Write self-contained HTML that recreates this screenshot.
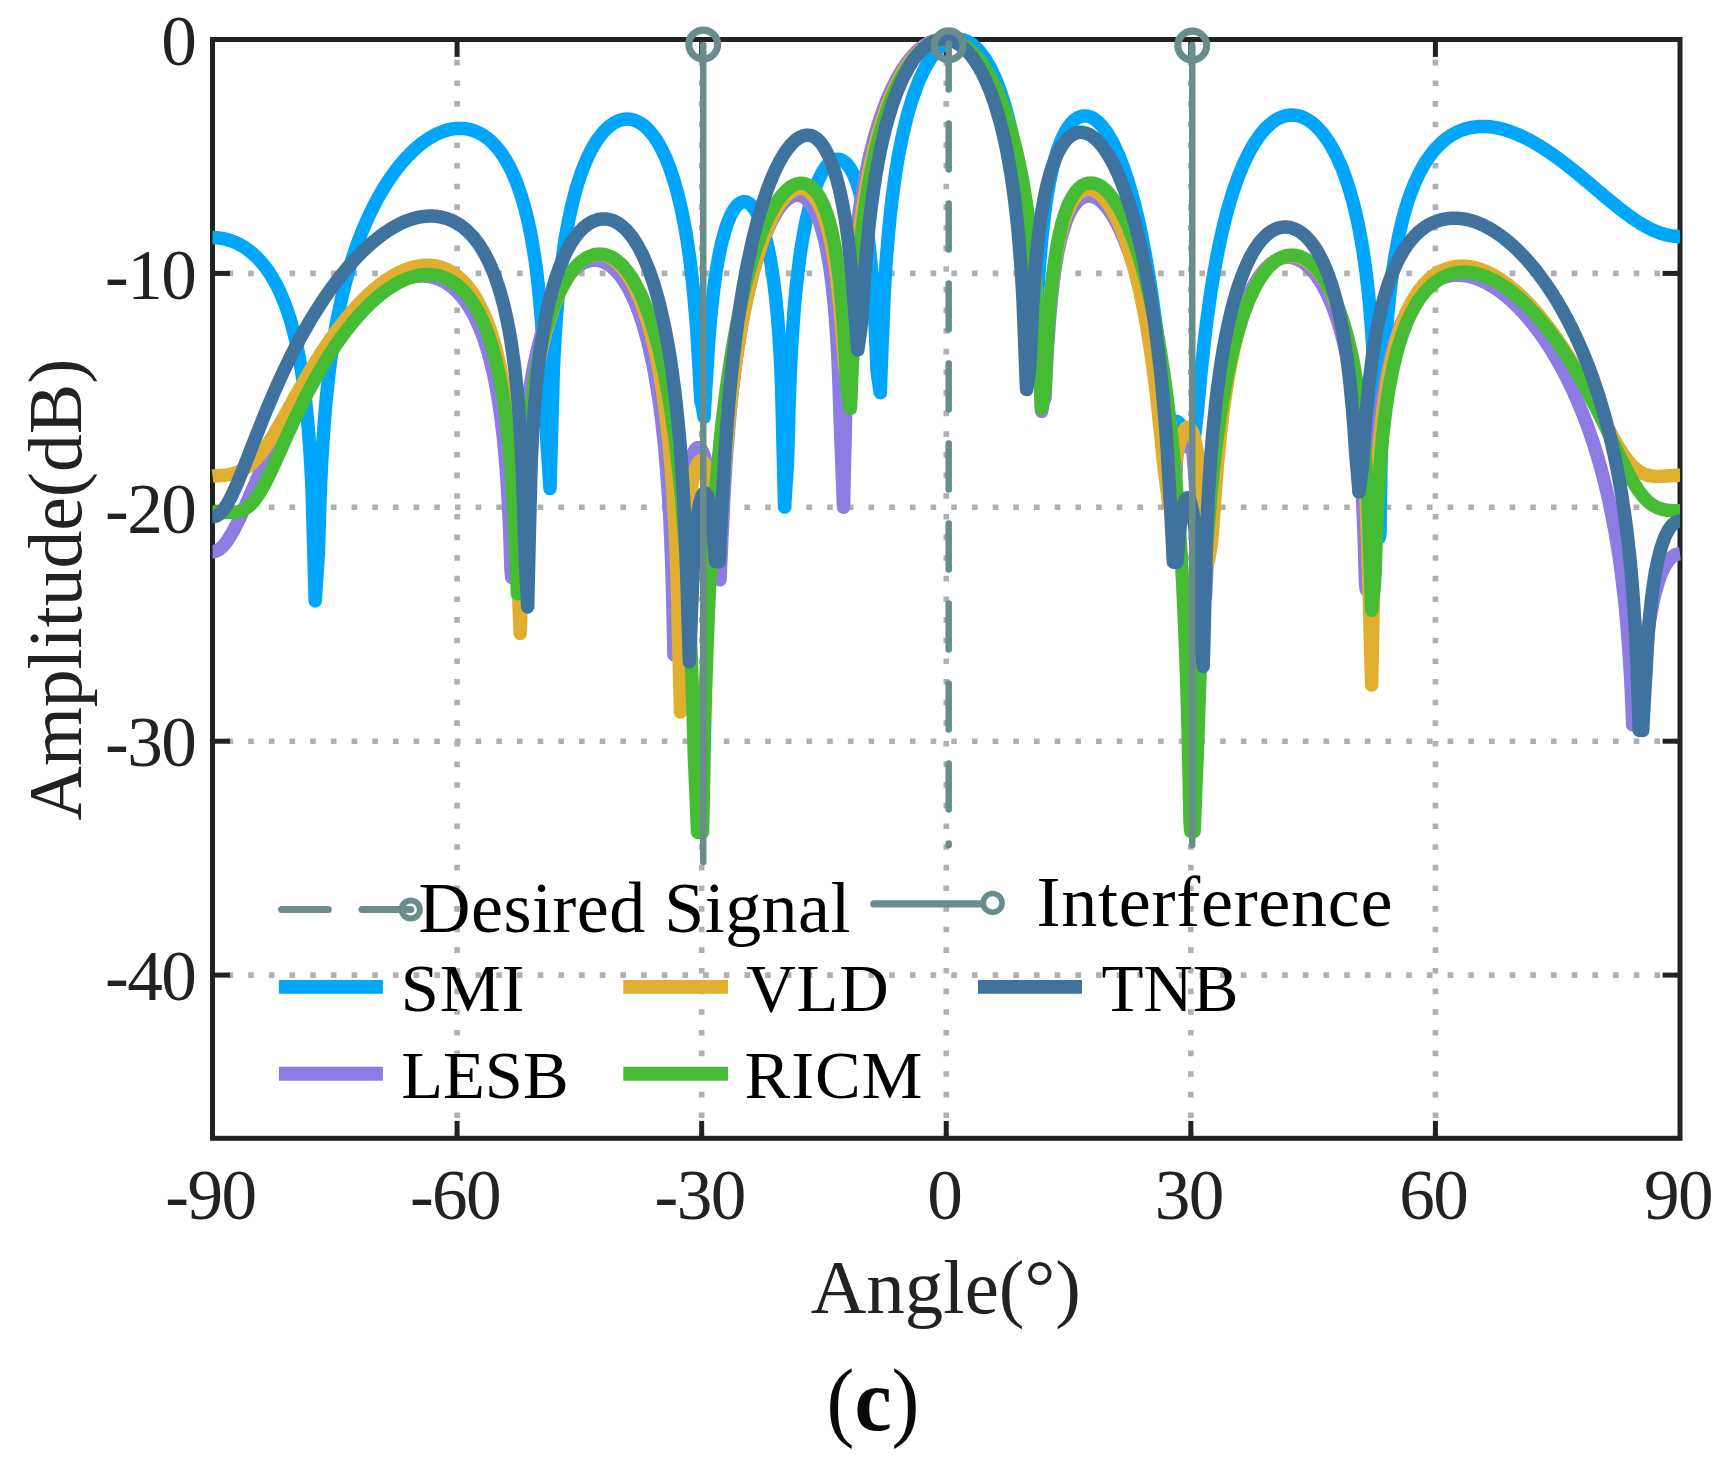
<!DOCTYPE html>
<html><head><meta charset="utf-8"><title>Beampattern (c)</title>
<style>html,body{margin:0;padding:0;background:#fff}svg{display:block}text{font-family:"Liberation Serif","Times New Roman",serif;fill:#222}</style></head><body>
<svg width="1735" height="1469" viewBox="0 0 1735 1469">
<rect width="1735" height="1469" fill="#fff"/>
<defs><clipPath id="cp"><rect x="209.10" y="30.50" width="1474.30" height="1110.80"/></clipPath></defs>
<g stroke="#b0b0b0" stroke-width="5.6" fill="none">
<line x1="457.08" y1="59.82" x2="457.08" y2="1135.30" stroke-dasharray="5.6 15.04"/>
<line x1="701.67" y1="59.82" x2="701.67" y2="1135.30" stroke-dasharray="5.6 15.04"/>
<line x1="946.25" y1="59.82" x2="946.25" y2="1135.30" stroke-dasharray="5.6 15.04"/>
<line x1="1190.83" y1="59.82" x2="1190.83" y2="1135.30" stroke-dasharray="5.6 15.04"/>
<line x1="1435.42" y1="59.82" x2="1435.42" y2="1135.30" stroke-dasharray="5.6 15.04"/>
<line x1="227.49" y1="273.40" x2="1677.00" y2="273.40" stroke-dasharray="5.6 15.08"/>
<line x1="227.49" y1="507.30" x2="1677.00" y2="507.30" stroke-dasharray="5.6 15.08"/>
<line x1="227.49" y1="741.20" x2="1677.00" y2="741.20" stroke-dasharray="5.6 15.08"/>
<line x1="227.49" y1="975.10" x2="1677.00" y2="975.10" stroke-dasharray="5.6 15.08"/>
</g>
<g stroke="#222222" stroke-width="5" fill="none">
<rect x="212.50" y="39.50" width="1467.50" height="1098.80"/>
<line x1="457.08" y1="39.50" x2="457.08" y2="56.90"/>
<line x1="457.08" y1="1138.30" x2="457.08" y2="1120.90"/>
<line x1="701.67" y1="39.50" x2="701.67" y2="56.90"/>
<line x1="701.67" y1="1138.30" x2="701.67" y2="1120.90"/>
<line x1="946.25" y1="39.50" x2="946.25" y2="56.90"/>
<line x1="946.25" y1="1138.30" x2="946.25" y2="1120.90"/>
<line x1="1190.83" y1="39.50" x2="1190.83" y2="56.90"/>
<line x1="1190.83" y1="1138.30" x2="1190.83" y2="1120.90"/>
<line x1="1435.42" y1="39.50" x2="1435.42" y2="56.90"/>
<line x1="1435.42" y1="1138.30" x2="1435.42" y2="1120.90"/>
<line x1="212.50" y1="273.40" x2="229.90" y2="273.40"/>
<line x1="1680.00" y1="273.40" x2="1662.60" y2="273.40"/>
<line x1="212.50" y1="507.30" x2="229.90" y2="507.30"/>
<line x1="1680.00" y1="507.30" x2="1662.60" y2="507.30"/>
<line x1="212.50" y1="741.20" x2="229.90" y2="741.20"/>
<line x1="1680.00" y1="741.20" x2="1662.60" y2="741.20"/>
<line x1="212.50" y1="975.10" x2="229.90" y2="975.10"/>
<line x1="1680.00" y1="975.10" x2="1662.60" y2="975.10"/>
</g>
<g clip-path="url(#cp)" fill="none" stroke-width="13.5" stroke-linejoin="round" stroke-linecap="butt">
<polyline stroke="#00a6fb" points="212.5,237.6 213.3,237.6 214.1,237.6 214.9,237.7 215.8,237.7 216.6,237.8 217.4,237.8 218.2,237.9 219.0,238.0 219.8,238.1 220.7,238.2 221.5,238.3 222.3,238.5 223.1,238.6 223.9,238.8 224.7,239.0 225.5,239.2 226.4,239.4 227.2,239.6 228.0,239.8 228.8,240.1 229.6,240.3 230.4,240.6 231.3,240.9 232.1,241.2 232.9,241.5 233.7,241.8 234.5,242.1 235.3,242.5 236.1,242.8 237.0,243.2 237.8,243.6 238.6,244.0 239.4,244.4 240.2,244.9 241.0,245.3 241.8,245.8 242.7,246.3 243.5,246.8 244.3,247.3 245.1,247.8 245.9,248.4 246.7,248.9 247.6,249.5 248.4,250.1 249.2,250.7 250.0,251.4 250.8,252.0 251.6,252.7 252.4,253.4 253.3,254.1 254.1,254.8 254.9,255.6 255.7,256.3 256.5,257.1 257.3,258.0 258.2,258.8 259.0,259.7 259.8,260.5 260.6,261.4 261.4,262.4 262.2,263.3 263.0,264.3 263.9,265.3 264.7,266.4 265.5,267.4 266.3,268.5 267.1,269.7 267.9,270.8 268.8,272.0 269.6,273.2 270.4,274.5 271.2,275.8 272.0,277.1 272.8,278.4 273.6,279.8 274.5,281.3 275.3,282.7 276.1,284.3 276.9,285.8 277.7,287.4 278.5,289.1 279.4,290.8 280.2,292.6 281.0,294.4 281.8,296.3 282.6,298.2 283.4,300.2 284.2,302.2 285.1,304.4 285.9,306.5 286.7,308.8 287.5,311.2 288.3,313.6 289.1,316.1 290.0,318.7 290.8,321.4 291.6,324.3 292.4,327.2 293.2,330.2 294.0,333.4 294.8,336.7 295.7,340.2 296.5,343.8 297.3,347.6 298.1,351.6 298.9,355.8 299.7,360.2 300.5,364.9 301.4,369.8 302.2,375.0 303.0,380.6 303.8,386.5 304.6,392.9 305.4,399.8 306.3,407.2 307.1,415.3 307.9,424.1 308.7,433.9 309.5,444.7 310.3,457.0 311.1,471.0 312.0,487.4 312.8,515.8 313.6,544.1 314.4,572.5 315.2,600.9 316.0,588.1 316.9,575.4 317.7,562.6 318.5,549.9 319.3,520.7 320.1,497.4 320.9,478.1 321.7,461.7 322.6,447.4 323.4,434.8 324.2,423.5 325.0,413.2 325.8,403.8 326.6,395.2 327.5,387.1 328.3,379.6 329.1,372.6 329.9,366.0 330.7,359.7 331.5,353.8 332.3,348.2 333.2,342.8 334.0,337.7 334.8,332.8 335.6,328.1 336.4,323.6 337.2,319.2 338.1,315.0 338.9,311.0 339.7,307.1 340.5,303.3 341.3,299.6 342.1,296.1 342.9,292.6 343.8,289.3 344.6,286.0 345.4,282.8 346.2,279.7 347.0,276.7 347.8,273.8 348.7,270.9 349.5,268.1 350.3,265.4 351.1,262.7 351.9,260.1 352.7,257.6 353.5,255.1 354.4,252.6 355.2,250.2 356.0,247.9 356.8,245.5 357.6,243.3 358.4,241.1 359.2,238.9 360.1,236.8 360.9,234.7 361.7,232.6 362.5,230.6 363.3,228.6 364.1,226.7 365.0,224.7 365.8,222.8 366.6,221.0 367.4,219.2 368.2,217.4 369.0,215.6 369.8,213.9 370.7,212.2 371.5,210.5 372.3,208.8 373.1,207.2 373.9,205.6 374.7,204.0 375.6,202.5 376.4,200.9 377.2,199.4 378.0,197.9 378.8,196.5 379.6,195.0 380.4,193.6 381.3,192.2 382.1,190.8 382.9,189.4 383.7,188.1 384.5,186.8 385.3,185.5 386.2,184.2 387.0,182.9 387.8,181.7 388.6,180.4 389.4,179.2 390.2,178.0 391.0,176.9 391.9,175.7 392.7,174.6 393.5,173.4 394.3,172.3 395.1,171.2 395.9,170.1 396.8,169.1 397.6,168.0 398.4,167.0 399.2,166.0 400.0,165.0 400.8,164.0 401.6,163.0 402.5,162.1 403.3,161.1 404.1,160.2 404.9,159.3 405.7,158.4 406.5,157.5 407.4,156.6 408.2,155.8 409.0,154.9 409.8,154.1 410.6,153.3 411.4,152.5 412.2,151.7 413.1,150.9 413.9,150.1 414.7,149.4 415.5,148.7 416.3,147.9 417.1,147.2 418.0,146.5 418.8,145.8 419.6,145.2 420.4,144.5 421.2,143.9 422.0,143.2 422.8,142.6 423.7,142.0 424.5,141.4 425.3,140.8 426.1,140.3 426.9,139.7 427.7,139.2 428.5,138.7 429.4,138.1 430.2,137.6 431.0,137.1 431.8,136.7 432.6,136.2 433.4,135.8 434.3,135.3 435.1,134.9 435.9,134.5 436.7,134.1 437.5,133.7 438.3,133.3 439.1,133.0 440.0,132.6 440.8,132.3 441.6,132.0 442.4,131.7 443.2,131.4 444.0,131.1 444.9,130.8 445.7,130.6 446.5,130.3 447.3,130.1 448.1,129.9 448.9,129.7 449.7,129.5 450.6,129.3 451.4,129.2 452.2,129.0 453.0,128.9 453.8,128.8 454.6,128.7 455.5,128.6 456.3,128.5 457.1,128.5 457.9,128.4 458.7,128.4 459.5,128.4 460.3,128.4 461.2,128.4 462.0,128.4 462.8,128.5 463.6,128.5 464.4,128.6 465.2,128.7 466.1,128.8 466.9,129.0 467.7,129.1 468.5,129.3 469.3,129.4 470.1,129.6 470.9,129.9 471.8,130.1 472.6,130.3 473.4,130.6 474.2,130.9 475.0,131.2 475.8,131.5 476.7,131.8 477.5,132.2 478.3,132.6 479.1,133.0 479.9,133.4 480.7,133.8 481.5,134.3 482.4,134.8 483.2,135.3 484.0,135.8 484.8,136.4 485.6,136.9 486.4,137.5 487.2,138.2 488.1,138.8 488.9,139.5 489.7,140.2 490.5,140.9 491.3,141.6 492.1,142.4 493.0,143.2 493.8,144.0 494.6,144.9 495.4,145.8 496.2,146.7 497.0,147.7 497.8,148.6 498.7,149.7 499.5,150.7 500.3,151.8 501.1,152.9 501.9,154.1 502.7,155.3 503.6,156.5 504.4,157.8 505.2,159.1 506.0,160.4 506.8,161.8 507.6,163.3 508.4,164.8 509.3,166.3 510.1,167.9 510.9,169.5 511.7,171.2 512.5,173.0 513.3,174.8 514.2,176.7 515.0,178.6 515.8,180.6 516.6,182.7 517.4,184.8 518.2,187.0 519.0,189.3 519.9,191.7 520.7,194.1 521.5,196.7 522.3,199.4 523.1,202.1 523.9,205.0 524.8,208.0 525.6,211.1 526.4,214.3 527.2,217.7 528.0,221.2 528.8,224.9 529.6,228.8 530.5,232.8 531.3,237.1 532.1,241.6 532.9,246.3 533.7,251.3 534.5,256.6 535.4,262.3 536.2,268.3 537.0,274.7 537.8,281.6 538.6,289.1 539.4,297.2 540.2,306.0 541.1,315.8 541.9,326.6 542.7,338.7 543.5,352.5 544.3,368.6 545.1,387.6 545.9,410.8 546.8,440.3 547.6,452.4 548.4,464.5 549.2,476.5 550.0,488.6 550.8,459.1 551.7,429.7 552.5,400.3 553.3,370.8 554.1,354.0 554.9,339.5 555.7,326.7 556.5,315.4 557.4,305.2 558.2,295.9 559.0,287.4 559.8,279.6 560.6,272.3 561.4,265.6 562.3,259.2 563.1,253.3 563.9,247.6 564.7,242.3 565.5,237.3 566.3,232.5 567.1,228.0 568.0,223.7 568.8,219.5 569.6,215.6 570.4,211.8 571.2,208.1 572.0,204.7 572.9,201.3 573.7,198.1 574.5,195.0 575.3,192.0 576.1,189.1 576.9,186.3 577.7,183.6 578.6,181.0 579.4,178.5 580.2,176.1 581.0,173.8 581.8,171.5 582.6,169.3 583.5,167.2 584.3,165.1 585.1,163.2 585.9,161.2 586.7,159.4 587.5,157.6 588.3,155.8 589.2,154.1 590.0,152.5 590.8,150.9 591.6,149.4 592.4,147.9 593.2,146.4 594.0,145.0 594.9,143.7 595.7,142.4 596.5,141.1 597.3,139.9 598.1,138.7 598.9,137.6 599.8,136.5 600.6,135.4 601.4,134.4 602.2,133.4 603.0,132.4 603.8,131.5 604.6,130.7 605.5,129.8 606.3,129.0 607.1,128.2 607.9,127.5 608.7,126.8 609.5,126.1 610.4,125.5 611.2,124.9 612.0,124.3 612.8,123.7 613.6,123.2 614.4,122.7 615.2,122.3 616.1,121.9 616.9,121.5 617.7,121.1 618.5,120.8 619.3,120.5 620.1,120.2 621.0,120.0 621.8,119.8 622.6,119.6 623.4,119.4 624.2,119.3 625.0,119.2 625.8,119.1 626.7,119.1 627.5,119.1 628.3,119.1 629.1,119.2 629.9,119.3 630.7,119.4 631.6,119.5 632.4,119.7 633.2,119.9 634.0,120.2 634.8,120.4 635.6,120.7 636.4,121.1 637.3,121.4 638.1,121.8 638.9,122.2 639.7,122.7 640.5,123.2 641.3,123.7 642.2,124.3 643.0,124.9 643.8,125.5 644.6,126.2 645.4,126.9 646.2,127.6 647.0,128.4 647.9,129.2 648.7,130.1 649.5,131.0 650.3,131.9 651.1,132.9 651.9,133.9 652.8,134.9 653.6,136.0 654.4,137.1 655.2,138.3 656.0,139.6 656.8,140.8 657.6,142.1 658.5,143.5 659.3,144.9 660.1,146.4 660.9,147.9 661.7,149.5 662.5,151.1 663.3,152.8 664.2,154.5 665.0,156.3 665.8,158.1 666.6,160.1 667.4,162.1 668.2,164.1 669.1,166.2 669.9,168.4 670.7,170.7 671.5,173.1 672.3,175.5 673.1,178.0 673.9,180.6 674.8,183.3 675.6,186.2 676.4,189.1 677.2,192.1 678.0,195.2 678.8,198.5 679.7,201.9 680.5,205.4 681.3,209.0 682.1,212.9 682.9,216.8 683.7,221.0 684.5,225.4 685.4,229.9 686.2,234.7 687.0,239.7 687.8,245.0 688.6,250.5 689.4,256.4 690.3,262.7 691.1,269.3 691.9,276.3 692.7,283.8 693.5,291.9 694.3,300.6 695.1,310.0 696.0,320.2 696.8,331.3 697.6,343.5 698.4,356.7 699.2,371.1 700.0,386.4 700.9,401.9 701.7,403.0 702.5,407.7 703.3,412.3 704.1,417.0 704.9,403.1 705.7,389.2 706.6,375.3 707.4,361.3 708.2,348.9 709.0,337.7 709.8,327.4 710.6,318.1 711.5,309.5 712.3,301.7 713.1,294.5 713.9,287.8 714.7,281.6 715.5,275.9 716.3,270.5 717.2,265.5 718.0,260.9 718.8,256.5 719.6,252.4 720.4,248.5 721.2,244.9 722.0,241.4 722.9,238.2 723.7,235.2 724.5,232.3 725.3,229.6 726.1,227.1 726.9,224.7 727.8,222.4 728.6,220.3 729.4,218.4 730.2,216.5 731.0,214.8 731.8,213.2 732.6,211.7 733.5,210.3 734.3,209.1 735.1,207.9 735.9,206.9 736.7,205.9 737.5,205.1 738.4,204.3 739.2,203.6 740.0,203.1 740.8,202.6 741.6,202.3 742.4,202.0 743.2,201.8 744.1,201.7 744.9,201.8 745.7,201.9 746.5,202.1 747.3,202.4 748.1,202.8 749.0,203.3 749.8,203.8 750.6,204.5 751.4,205.3 752.2,206.2 753.0,207.2 753.8,208.3 754.7,209.5 755.5,210.8 756.3,212.2 757.1,213.7 757.9,215.4 758.7,217.1 759.6,219.0 760.4,221.1 761.2,223.2 762.0,225.5 762.8,228.0 763.6,230.6 764.4,233.4 765.3,236.4 766.1,239.6 766.9,242.9 767.7,246.5 768.5,250.3 769.3,254.4 770.2,258.8 771.0,263.4 771.8,268.4 772.6,273.7 773.4,279.5 774.2,285.7 775.0,292.5 775.9,299.9 776.7,308.0 777.5,316.9 778.3,326.8 779.1,337.9 779.9,350.6 780.7,365.3 781.6,387.2 782.4,419.6 783.2,452.0 784.0,484.4 784.6,507.1 784.8,503.3 785.6,490.7 786.5,478.0 787.3,465.4 788.1,443.0 788.9,411.7 789.7,387.7 790.5,368.2 791.3,351.9 792.2,337.8 793.0,325.4 793.8,314.3 794.6,304.4 795.4,295.3 796.2,287.0 797.1,279.4 797.9,272.3 798.7,265.7 799.5,259.5 800.3,253.7 801.1,248.3 801.9,243.1 802.8,238.3 803.6,233.7 804.4,229.4 805.2,225.3 806.0,221.3 806.8,217.6 807.7,214.1 808.5,210.7 809.3,207.5 810.1,204.4 810.9,201.5 811.7,198.7 812.5,196.0 813.4,193.5 814.2,191.0 815.0,188.7 815.8,186.5 816.6,184.4 817.4,182.4 818.3,180.5 819.1,178.7 819.9,177.0 820.7,175.4 821.5,173.8 822.3,172.4 823.1,171.0 824.0,169.7 824.8,168.5 825.6,167.3 826.4,166.3 827.2,165.3 828.0,164.4 828.9,163.6 829.7,162.8 830.5,162.1 831.3,161.5 832.1,161.0 832.9,160.5 833.7,160.1 834.6,159.8 835.4,159.5 836.2,159.4 837.0,159.3 837.8,159.2 838.6,159.3 839.4,159.4 840.3,159.6 841.1,159.9 841.9,160.2 842.7,160.7 843.5,161.2 844.3,161.8 845.2,162.4 846.0,163.2 846.8,164.0 847.6,165.0 848.4,166.0 849.2,167.1 850.0,168.3 850.9,169.7 851.7,171.1 852.5,172.7 853.3,174.3 854.1,176.1 854.9,178.1 855.8,180.1 856.6,182.3 857.4,184.7 858.2,187.2 859.0,189.9 859.8,192.8 860.6,195.9 861.5,199.2 862.3,202.8 863.1,206.6 863.9,210.7 864.7,215.1 865.5,219.8 866.4,224.9 867.2,230.4 868.0,236.4 868.8,242.9 869.6,250.1 870.4,257.9 871.2,266.6 872.1,276.3 872.9,287.1 873.7,299.4 874.5,313.4 875.3,329.6 876.1,348.4 877.0,369.9 877.8,376.8 878.6,381.9 879.4,387.1 880.2,392.2 880.3,392.7 881.0,373.3 881.8,351.9 882.7,330.4 883.5,308.9 884.3,292.4 885.1,278.3 885.9,265.8 886.7,254.4 887.6,244.0 888.4,234.5 889.2,225.7 890.0,217.6 890.8,209.9 891.6,202.8 892.4,196.1 893.3,189.7 894.1,183.7 894.9,178.1 895.7,172.6 896.5,167.5 897.3,162.6 898.1,157.8 899.0,153.3 899.8,149.0 900.6,144.8 901.4,140.8 902.2,137.0 903.0,133.3 903.9,129.7 904.7,126.3 905.5,122.9 906.3,119.7 907.1,116.6 907.9,113.6 908.7,110.7 909.6,107.9 910.4,105.2 911.2,102.5 912.0,99.9 912.8,97.5 913.6,95.1 914.5,92.7 915.3,90.5 916.1,88.3 916.9,86.1 917.7,84.1 918.5,82.1 919.3,80.1 920.2,78.3 921.0,76.4 921.8,74.7 922.6,73.0 923.4,71.3 924.2,69.7 925.1,68.1 925.9,66.6 926.7,65.2 927.5,63.7 928.3,62.4 929.1,61.0 929.9,59.8 930.8,58.5 931.6,57.3 932.4,56.2 933.2,55.1 934.0,54.0 934.8,53.0 935.7,52.0 936.5,51.1 937.3,50.2 938.1,49.3 938.9,48.5 939.7,47.7 940.5,46.9 941.4,46.2 942.2,45.5 943.0,44.9 943.8,44.3 944.6,43.7 945.4,43.1 946.3,42.6 947.1,42.2 947.9,41.7 948.7,41.3 949.5,41.0 950.3,40.6 951.1,40.3 952.0,40.1 952.8,39.9 953.6,39.7 954.4,39.5 955.2,39.5 956.0,39.5 956.8,39.5 957.7,39.5 958.5,39.5 959.3,39.5 960.1,39.5 960.9,39.5 961.7,39.6 962.6,39.7 963.4,39.9 964.2,40.2 965.0,40.5 965.8,40.8 966.6,41.1 967.4,41.5 968.3,41.9 969.1,42.4 969.9,42.9 970.7,43.4 971.5,43.9 972.3,44.5 973.2,45.2 974.0,45.8 974.8,46.5 975.6,47.3 976.4,48.1 977.2,48.9 978.0,49.8 978.9,50.7 979.7,51.6 980.5,52.6 981.3,53.6 982.1,54.7 982.9,55.8 983.8,56.9 984.6,58.1 985.4,59.4 986.2,60.6 987.0,62.0 987.8,63.4 988.6,64.8 989.5,66.3 990.3,67.8 991.1,69.4 991.9,71.0 992.7,72.7 993.5,74.4 994.4,76.2 995.2,78.1 996.0,80.0 996.8,82.0 997.6,84.1 998.4,86.2 999.2,88.4 1000.1,90.7 1000.9,93.0 1001.7,95.4 1002.5,97.9 1003.3,100.5 1004.1,103.2 1005.0,105.9 1005.8,108.8 1006.6,111.8 1007.4,114.8 1008.2,118.0 1009.0,121.3 1009.8,124.7 1010.7,128.3 1011.5,132.0 1012.3,135.8 1013.1,139.8 1013.9,144.0 1014.7,148.4 1015.5,152.9 1016.4,157.7 1017.2,162.7 1018.0,167.9 1018.8,173.5 1019.6,179.3 1020.4,185.4 1021.3,192.0 1022.1,198.9 1022.9,206.3 1023.7,214.2 1024.5,222.7 1025.3,231.9 1026.1,241.8 1027.0,252.7 1027.8,264.5 1028.6,277.4 1029.4,291.6 1030.2,306.9 1031.0,322.9 1031.9,338.4 1032.7,350.4 1033.5,355.2 1034.3,350.7 1035.1,339.1 1035.9,324.5 1036.7,309.4 1037.6,295.1 1038.4,281.9 1039.2,270.0 1040.0,259.2 1040.8,249.4 1041.6,240.4 1042.5,232.3 1043.3,224.7 1044.1,217.8 1044.9,211.4 1045.7,205.4 1046.5,199.8 1047.3,194.6 1048.2,189.8 1049.0,185.2 1049.8,180.9 1050.6,176.9 1051.4,173.0 1052.2,169.4 1053.1,166.0 1053.9,162.8 1054.7,159.8 1055.5,156.9 1056.3,154.2 1057.1,151.6 1057.9,149.1 1058.8,146.8 1059.6,144.5 1060.4,142.4 1061.2,140.5 1062.0,138.6 1062.8,136.8 1063.7,135.1 1064.5,133.5 1065.3,131.9 1066.1,130.5 1066.9,129.2 1067.7,127.9 1068.5,126.7 1069.4,125.6 1070.2,124.5 1071.0,123.5 1071.8,122.6 1072.6,121.7 1073.4,121.0 1074.2,120.2 1075.1,119.6 1075.9,119.0 1076.7,118.4 1077.5,117.9 1078.3,117.5 1079.1,117.1 1080.0,116.8 1080.8,116.5 1081.6,116.3 1082.4,116.1 1083.2,116.0 1084.0,115.9 1084.8,115.9 1085.7,115.9 1086.5,116.0 1087.3,116.1 1088.1,116.3 1088.9,116.5 1089.7,116.8 1090.6,117.1 1091.4,117.4 1092.2,117.8 1093.0,118.3 1093.8,118.8 1094.6,119.3 1095.4,119.9 1096.3,120.5 1097.1,121.2 1097.9,121.9 1098.7,122.6 1099.5,123.4 1100.3,124.3 1101.2,125.2 1102.0,126.1 1102.8,127.1 1103.6,128.1 1104.4,129.2 1105.2,130.3 1106.0,131.4 1106.9,132.6 1107.7,133.9 1108.5,135.2 1109.3,136.5 1110.1,137.9 1110.9,139.3 1111.8,140.8 1112.6,142.3 1113.4,143.9 1114.2,145.5 1115.0,147.2 1115.8,148.9 1116.6,150.7 1117.5,152.5 1118.3,154.4 1119.1,156.4 1119.9,158.3 1120.7,160.4 1121.5,162.5 1122.3,164.6 1123.2,166.9 1124.0,169.1 1124.8,171.5 1125.6,173.9 1126.4,176.3 1127.2,178.8 1128.1,181.4 1128.9,184.1 1129.7,186.8 1130.5,189.6 1131.3,192.4 1132.1,195.4 1132.9,198.4 1133.8,201.4 1134.6,204.6 1135.4,207.8 1136.2,211.2 1137.0,214.6 1137.8,218.1 1138.7,221.7 1139.5,225.3 1140.3,229.1 1141.1,233.0 1141.9,237.0 1142.7,241.1 1143.5,245.3 1144.4,249.6 1145.2,254.0 1146.0,258.5 1146.8,263.2 1147.6,268.0 1148.4,272.9 1149.3,278.0 1150.1,283.2 1150.9,288.5 1151.7,294.0 1152.5,299.6 1153.3,305.4 1154.1,311.3 1155.0,317.4 1155.8,323.6 1156.6,330.0 1157.4,336.4 1158.2,343.0 1159.0,349.6 1159.9,356.3 1160.7,363.0 1161.5,369.7 1162.3,376.2 1163.1,382.6 1163.9,388.7 1164.7,394.4 1165.6,399.7 1166.4,404.5 1167.2,408.7 1168.0,412.2 1168.8,415.0 1169.6,417.2 1170.5,418.9 1171.3,420.0 1172.1,420.7 1172.9,421.1 1173.7,421.2 1174.5,421.3 1175.3,421.3 1176.2,421.4 1177.0,421.6 1177.8,422.0 1178.6,422.6 1179.4,423.4 1180.2,424.5 1181.1,425.9 1181.9,427.6 1182.7,429.5 1183.5,431.8 1184.3,434.4 1185.1,437.3 1185.9,440.3 1186.8,443.4 1187.6,446.5 1188.4,446.5 1189.2,446.5 1190.0,446.5 1190.8,432.5 1191.6,437.1 1192.5,441.8 1193.3,446.5 1194.1,439.8 1194.9,433.2 1195.7,426.5 1196.5,419.9 1197.4,411.4 1198.2,402.7 1199.0,394.0 1199.8,385.4 1200.6,377.0 1201.4,368.8 1202.2,360.9 1203.1,353.2 1203.9,345.8 1204.7,338.6 1205.5,331.7 1206.3,325.1 1207.1,318.7 1208.0,312.5 1208.8,306.5 1209.6,300.8 1210.4,295.2 1211.2,289.8 1212.0,284.6 1212.8,279.5 1213.7,274.7 1214.5,269.9 1215.3,265.3 1216.1,260.9 1216.9,256.6 1217.7,252.4 1218.6,248.3 1219.4,244.4 1220.2,240.5 1221.0,236.8 1221.8,233.1 1222.6,229.6 1223.4,226.2 1224.3,222.8 1225.1,219.5 1225.9,216.4 1226.7,213.3 1227.5,210.2 1228.3,207.3 1229.2,204.4 1230.0,201.6 1230.8,198.9 1231.6,196.2 1232.4,193.6 1233.2,191.1 1234.0,188.6 1234.9,186.2 1235.7,183.9 1236.5,181.6 1237.3,179.3 1238.1,177.2 1238.9,175.0 1239.8,172.9 1240.6,170.9 1241.4,168.9 1242.2,167.0 1243.0,165.1 1243.8,163.3 1244.6,161.5 1245.5,159.7 1246.3,158.0 1247.1,156.3 1247.9,154.7 1248.7,153.1 1249.5,151.6 1250.3,150.1 1251.2,148.6 1252.0,147.2 1252.8,145.8 1253.6,144.5 1254.4,143.1 1255.2,141.9 1256.1,140.6 1256.9,139.4 1257.7,138.2 1258.5,137.1 1259.3,136.0 1260.1,134.9 1260.9,133.8 1261.8,132.8 1262.6,131.8 1263.4,130.9 1264.2,130.0 1265.0,129.1 1265.8,128.2 1266.7,127.4 1267.5,126.6 1268.3,125.8 1269.1,125.1 1269.9,124.3 1270.7,123.7 1271.5,123.0 1272.4,122.4 1273.2,121.8 1274.0,121.2 1274.8,120.6 1275.6,120.1 1276.4,119.6 1277.3,119.1 1278.1,118.7 1278.9,118.3 1279.7,117.9 1280.5,117.5 1281.3,117.2 1282.1,116.9 1283.0,116.6 1283.8,116.3 1284.6,116.1 1285.4,115.9 1286.2,115.7 1287.0,115.5 1287.9,115.4 1288.7,115.3 1289.5,115.2 1290.3,115.1 1291.1,115.1 1291.9,115.1 1292.7,115.1 1293.6,115.1 1294.4,115.2 1295.2,115.3 1296.0,115.4 1296.8,115.5 1297.6,115.7 1298.5,115.9 1299.3,116.1 1300.1,116.3 1300.9,116.6 1301.7,116.9 1302.5,117.2 1303.3,117.5 1304.2,117.9 1305.0,118.3 1305.8,118.7 1306.6,119.2 1307.4,119.6 1308.2,120.1 1309.0,120.6 1309.9,121.2 1310.7,121.8 1311.5,122.4 1312.3,123.0 1313.1,123.7 1313.9,124.3 1314.8,125.1 1315.6,125.8 1316.4,126.6 1317.2,127.4 1318.0,128.2 1318.8,129.0 1319.6,129.9 1320.5,130.9 1321.3,131.8 1322.1,132.8 1322.9,133.8 1323.7,134.8 1324.5,135.9 1325.4,137.0 1326.2,138.2 1327.0,139.4 1327.8,140.6 1328.6,141.8 1329.4,143.1 1330.2,144.5 1331.1,145.8 1331.9,147.2 1332.7,148.7 1333.5,150.2 1334.3,151.7 1335.1,153.3 1336.0,154.9 1336.8,156.6 1337.6,158.3 1338.4,160.0 1339.2,161.8 1340.0,163.7 1340.8,165.6 1341.7,167.6 1342.5,169.6 1343.3,171.7 1344.1,173.9 1344.9,176.1 1345.7,178.4 1346.6,180.7 1347.4,183.2 1348.2,185.7 1349.0,188.3 1349.8,190.9 1350.6,193.7 1351.4,196.5 1352.3,199.5 1353.1,202.5 1353.9,205.7 1354.7,209.0 1355.5,212.4 1356.3,215.9 1357.2,219.6 1358.0,223.4 1358.8,227.4 1359.6,231.5 1360.4,235.9 1361.2,240.4 1362.0,245.2 1362.9,250.2 1363.7,255.5 1364.5,261.1 1365.3,267.0 1366.1,273.2 1366.9,279.9 1367.7,287.1 1368.6,294.8 1369.4,303.2 1370.2,312.3 1371.0,322.3 1371.8,333.3 1372.6,345.7 1373.5,359.8 1374.3,376.2 1375.1,395.7 1375.9,419.8 1376.7,451.3 1377.5,497.2 1378.3,537.7 1379.2,537.7 1380.0,532.9 1380.8,473.1 1381.6,435.8 1382.4,408.6 1383.2,387.3 1384.1,369.8 1384.9,354.9 1385.7,341.9 1386.5,330.5 1387.3,320.3 1388.1,311.0 1388.9,302.6 1389.8,294.8 1390.6,287.7 1391.4,281.0 1392.2,274.8 1393.0,269.0 1393.8,263.5 1394.7,258.4 1395.5,253.5 1396.3,248.9 1397.1,244.5 1397.9,240.3 1398.7,236.3 1399.5,232.5 1400.4,228.9 1401.2,225.4 1402.0,222.1 1402.8,218.9 1403.6,215.8 1404.4,212.8 1405.3,210.0 1406.1,207.2 1406.9,204.6 1407.7,202.0 1408.5,199.5 1409.3,197.1 1410.1,194.8 1411.0,192.6 1411.8,190.4 1412.6,188.3 1413.4,186.3 1414.2,184.3 1415.0,182.4 1415.9,180.6 1416.7,178.8 1417.5,177.0 1418.3,175.3 1419.1,173.7 1419.9,172.1 1420.7,170.5 1421.6,169.0 1422.4,167.6 1423.2,166.1 1424.0,164.7 1424.8,163.4 1425.6,162.1 1426.4,160.8 1427.3,159.6 1428.1,158.4 1428.9,157.2 1429.7,156.1 1430.5,155.0 1431.3,153.9 1432.2,152.9 1433.0,151.8 1433.8,150.8 1434.6,149.9 1435.4,148.9 1436.2,148.0 1437.0,147.2 1437.9,146.3 1438.7,145.5 1439.5,144.7 1440.3,143.9 1441.1,143.1 1441.9,142.4 1442.8,141.6 1443.6,140.9 1444.4,140.3 1445.2,139.6 1446.0,139.0 1446.8,138.4 1447.6,137.8 1448.5,137.2 1449.3,136.6 1450.1,136.1 1450.9,135.5 1451.7,135.0 1452.5,134.6 1453.4,134.1 1454.2,133.6 1455.0,133.2 1455.8,132.8 1456.6,132.4 1457.4,132.0 1458.2,131.6 1459.1,131.2 1459.9,130.9 1460.7,130.5 1461.5,130.2 1462.3,129.9 1463.1,129.6 1464.0,129.4 1464.8,129.1 1465.6,128.8 1466.4,128.6 1467.2,128.4 1468.0,128.2 1468.8,128.0 1469.7,127.8 1470.5,127.6 1471.3,127.5 1472.1,127.3 1472.9,127.2 1473.7,127.1 1474.6,127.0 1475.4,126.8 1476.2,126.8 1477.0,126.7 1477.8,126.6 1478.6,126.6 1479.4,126.5 1480.3,126.5 1481.1,126.5 1481.9,126.4 1482.7,126.4 1483.5,126.4 1484.3,126.5 1485.1,126.5 1486.0,126.5 1486.8,126.6 1487.6,126.6 1488.4,126.7 1489.2,126.7 1490.0,126.8 1490.9,126.9 1491.7,127.0 1492.5,127.1 1493.3,127.2 1494.1,127.4 1494.9,127.5 1495.7,127.7 1496.6,127.8 1497.4,128.0 1498.2,128.1 1499.0,128.3 1499.8,128.5 1500.6,128.7 1501.5,128.9 1502.3,129.1 1503.1,129.3 1503.9,129.5 1504.7,129.8 1505.5,130.0 1506.3,130.3 1507.2,130.5 1508.0,130.8 1508.8,131.1 1509.6,131.3 1510.4,131.6 1511.2,131.9 1512.1,132.2 1512.9,132.5 1513.7,132.8 1514.5,133.1 1515.3,133.5 1516.1,133.8 1516.9,134.1 1517.8,134.5 1518.6,134.8 1519.4,135.2 1520.2,135.6 1521.0,135.9 1521.8,136.3 1522.7,136.7 1523.5,137.1 1524.3,137.5 1525.1,137.9 1525.9,138.3 1526.7,138.7 1527.5,139.1 1528.4,139.5 1529.2,140.0 1530.0,140.4 1530.8,140.8 1531.6,141.3 1532.4,141.7 1533.3,142.2 1534.1,142.7 1534.9,143.1 1535.7,143.6 1536.5,144.1 1537.3,144.6 1538.1,145.1 1539.0,145.5 1539.8,146.0 1540.6,146.6 1541.4,147.1 1542.2,147.6 1543.0,148.1 1543.8,148.6 1544.7,149.1 1545.5,149.7 1546.3,150.2 1547.1,150.8 1547.9,151.3 1548.7,151.9 1549.6,152.4 1550.4,153.0 1551.2,153.5 1552.0,154.1 1552.8,154.7 1553.6,155.2 1554.4,155.8 1555.3,156.4 1556.1,157.0 1556.9,157.6 1557.7,158.2 1558.5,158.8 1559.3,159.4 1560.2,160.0 1561.0,160.6 1561.8,161.2 1562.6,161.8 1563.4,162.4 1564.2,163.1 1565.0,163.7 1565.9,164.3 1566.7,164.9 1567.5,165.6 1568.3,166.2 1569.1,166.9 1569.9,167.5 1570.8,168.1 1571.6,168.8 1572.4,169.4 1573.2,170.1 1574.0,170.8 1574.8,171.4 1575.6,172.1 1576.5,172.7 1577.3,173.4 1578.1,174.1 1578.9,174.7 1579.7,175.4 1580.5,176.1 1581.4,176.7 1582.2,177.4 1583.0,178.1 1583.8,178.8 1584.6,179.5 1585.4,180.1 1586.2,180.8 1587.1,181.5 1587.9,182.2 1588.7,182.9 1589.5,183.6 1590.3,184.2 1591.1,184.9 1592.0,185.6 1592.8,186.3 1593.6,187.0 1594.4,187.7 1595.2,188.4 1596.0,189.1 1596.8,189.8 1597.7,190.5 1598.5,191.1 1599.3,191.8 1600.1,192.5 1600.9,193.2 1601.7,193.9 1602.5,194.6 1603.4,195.3 1604.2,196.0 1605.0,196.6 1605.8,197.3 1606.6,198.0 1607.4,198.7 1608.3,199.4 1609.1,200.0 1609.9,200.7 1610.7,201.4 1611.5,202.1 1612.3,202.7 1613.1,203.4 1614.0,204.1 1614.8,204.7 1615.6,205.4 1616.4,206.0 1617.2,206.7 1618.0,207.3 1618.9,208.0 1619.7,208.6 1620.5,209.3 1621.3,209.9 1622.1,210.5 1622.9,211.2 1623.7,211.8 1624.6,212.4 1625.4,213.0 1626.2,213.6 1627.0,214.2 1627.8,214.8 1628.6,215.4 1629.5,216.0 1630.3,216.6 1631.1,217.2 1631.9,217.8 1632.7,218.3 1633.5,218.9 1634.3,219.4 1635.2,220.0 1636.0,220.5 1636.8,221.1 1637.6,221.6 1638.4,222.1 1639.2,222.6 1640.1,223.2 1640.9,223.7 1641.7,224.1 1642.5,224.6 1643.3,225.1 1644.1,225.6 1644.9,226.0 1645.8,226.5 1646.6,226.9 1647.4,227.4 1648.2,227.8 1649.0,228.2 1649.8,228.6 1650.7,229.0 1651.5,229.4 1652.3,229.8 1653.1,230.2 1653.9,230.6 1654.7,230.9 1655.5,231.2 1656.4,231.6 1657.2,231.9 1658.0,232.2 1658.8,232.5 1659.6,232.8 1660.4,233.1 1661.2,233.4 1662.1,233.6 1662.9,233.9 1663.7,234.1 1664.5,234.3 1665.3,234.6 1666.1,234.8 1667.0,235.0 1667.8,235.1 1668.6,235.3 1669.4,235.5 1670.2,235.6 1671.0,235.7 1671.8,235.9 1672.7,236.0 1673.5,236.1 1674.3,236.2 1675.1,236.2 1675.9,236.3 1676.7,236.4 1677.6,236.4 1678.4,236.4 1679.2,236.4 1680.0,236.4"/>
<polyline stroke="#8c7ce4" points="212.5,551.7 213.3,551.7 214.1,551.6 214.9,551.4 215.8,551.2 216.6,550.8 217.4,550.4 218.2,550.0 219.0,549.5 219.8,548.9 220.7,548.2 221.5,547.5 222.3,546.7 223.1,545.8 223.9,544.9 224.7,544.0 225.5,542.9 226.4,541.9 227.2,540.7 228.0,539.6 228.8,538.3 229.6,537.1 230.4,535.7 231.3,534.4 232.1,533.0 232.9,531.5 233.7,530.0 234.5,528.5 235.3,527.0 236.1,525.4 237.0,523.8 237.8,522.1 238.6,520.5 239.4,518.8 240.2,517.1 241.0,515.3 241.8,513.6 242.7,511.8 243.5,510.0 244.3,508.2 245.1,506.4 245.9,504.6 246.7,502.7 247.6,500.9 248.4,499.0 249.2,497.2 250.0,495.3 250.8,493.4 251.6,491.5 252.4,489.7 253.3,487.8 254.1,485.9 254.9,484.0 255.7,482.1 256.5,480.2 257.3,478.3 258.2,476.4 259.0,474.5 259.8,472.6 260.6,470.8 261.4,468.9 262.2,467.0 263.0,465.2 263.9,463.3 264.7,461.4 265.5,459.6 266.3,457.7 267.1,455.9 267.9,454.1 268.8,452.2 269.6,450.4 270.4,448.6 271.2,446.8 272.0,445.0 272.8,443.2 273.6,441.5 274.5,439.7 275.3,437.9 276.1,436.2 276.9,434.5 277.7,432.7 278.5,431.0 279.4,429.3 280.2,427.6 281.0,425.9 281.8,424.2 282.6,422.5 283.4,420.9 284.2,419.2 285.1,417.6 285.9,416.0 286.7,414.3 287.5,412.7 288.3,411.1 289.1,409.5 290.0,407.9 290.8,406.4 291.6,404.8 292.4,403.3 293.2,401.7 294.0,400.2 294.8,398.7 295.7,397.2 296.5,395.7 297.3,394.2 298.1,392.7 298.9,391.2 299.7,389.7 300.5,388.3 301.4,386.9 302.2,385.4 303.0,384.0 303.8,382.6 304.6,381.2 305.4,379.8 306.3,378.4 307.1,377.0 307.9,375.7 308.7,374.3 309.5,373.0 310.3,371.7 311.1,370.3 312.0,369.0 312.8,367.7 313.6,366.4 314.4,365.1 315.2,363.9 316.0,362.6 316.9,361.3 317.7,360.1 318.5,358.9 319.3,357.6 320.1,356.4 320.9,355.2 321.7,354.0 322.6,352.8 323.4,351.6 324.2,350.4 325.0,349.3 325.8,348.1 326.6,347.0 327.5,345.9 328.3,344.7 329.1,343.6 329.9,342.5 330.7,341.4 331.5,340.3 332.3,339.2 333.2,338.2 334.0,337.1 334.8,336.0 335.6,335.0 336.4,334.0 337.2,332.9 338.1,331.9 338.9,330.9 339.7,329.9 340.5,328.9 341.3,327.9 342.1,326.9 342.9,326.0 343.8,325.0 344.6,324.1 345.4,323.1 346.2,322.2 347.0,321.3 347.8,320.4 348.7,319.4 349.5,318.6 350.3,317.7 351.1,316.8 351.9,315.9 352.7,315.1 353.5,314.2 354.4,313.4 355.2,312.5 356.0,311.7 356.8,310.9 357.6,310.1 358.4,309.3 359.2,308.5 360.1,307.7 360.9,306.9 361.7,306.1 362.5,305.4 363.3,304.6 364.1,303.9 365.0,303.2 365.8,302.4 366.6,301.7 367.4,301.0 368.2,300.3 369.0,299.6 369.8,299.0 370.7,298.3 371.5,297.6 372.3,297.0 373.1,296.4 373.9,295.7 374.7,295.1 375.6,294.5 376.4,293.9 377.2,293.3 378.0,292.7 378.8,292.1 379.6,291.5 380.4,291.0 381.3,290.4 382.1,289.9 382.9,289.4 383.7,288.8 384.5,288.3 385.3,287.8 386.2,287.3 387.0,286.8 387.8,286.4 388.6,285.9 389.4,285.5 390.2,285.0 391.0,284.6 391.9,284.2 392.7,283.7 393.5,283.3 394.3,282.9 395.1,282.6 395.9,282.2 396.8,281.8 397.6,281.5 398.4,281.1 399.2,280.8 400.0,280.5 400.8,280.1 401.6,279.8 402.5,279.6 403.3,279.3 404.1,279.0 404.9,278.7 405.7,278.5 406.5,278.3 407.4,278.0 408.2,277.8 409.0,277.6 409.8,277.4 410.6,277.2 411.4,277.1 412.2,276.9 413.1,276.8 413.9,276.7 414.7,276.5 415.5,276.4 416.3,276.3 417.1,276.2 418.0,276.2 418.8,276.1 419.6,276.1 420.4,276.0 421.2,276.0 422.0,276.0 422.8,276.0 423.7,276.1 424.5,276.1 425.3,276.1 426.1,276.2 426.9,276.3 427.7,276.4 428.5,276.5 429.4,276.6 430.2,276.8 431.0,276.9 431.8,277.1 432.6,277.3 433.4,277.5 434.3,277.7 435.1,277.9 435.9,278.2 436.7,278.5 437.5,278.7 438.3,279.0 439.1,279.4 440.0,279.7 440.8,280.1 441.6,280.5 442.4,280.9 443.2,281.3 444.0,281.7 444.9,282.2 445.7,282.6 446.5,283.1 447.3,283.7 448.1,284.2 448.9,284.8 449.7,285.3 450.6,286.0 451.4,286.6 452.2,287.2 453.0,287.9 453.8,288.6 454.6,289.3 455.5,290.1 456.3,290.9 457.1,291.7 457.9,292.5 458.7,293.4 459.5,294.3 460.3,295.2 461.2,296.1 462.0,297.1 462.8,298.1 463.6,299.2 464.4,300.2 465.2,301.3 466.1,302.5 466.9,303.7 467.7,304.9 468.5,306.1 469.3,307.4 470.1,308.8 470.9,310.1 471.8,311.6 472.6,313.0 473.4,314.5 474.2,316.1 475.0,317.7 475.8,319.4 476.7,321.1 477.5,322.9 478.3,324.7 479.1,326.6 479.9,328.5 480.7,330.5 481.5,332.6 482.4,334.8 483.2,337.0 484.0,339.3 484.8,341.7 485.6,344.2 486.4,346.8 487.2,349.4 488.1,352.2 488.9,355.1 489.7,358.1 490.5,361.2 491.3,364.5 492.1,367.9 493.0,371.4 493.8,375.1 494.6,379.0 495.4,383.1 496.2,387.4 497.0,391.9 497.8,396.7 498.7,401.7 499.5,407.1 500.3,412.7 501.1,418.8 501.9,425.3 502.7,432.3 503.6,439.9 504.4,448.1 505.2,457.1 506.0,467.0 506.8,478.1 507.6,490.6 508.4,505.0 509.3,521.8 510.1,542.0 510.9,567.5 511.7,577.5 512.5,577.5 513.3,577.5 514.2,577.5 515.0,577.5 515.8,577.5 516.6,565.1 517.4,539.6 518.2,519.2 519.0,502.1 519.9,487.5 520.7,474.7 521.5,463.4 522.3,453.1 523.1,443.8 523.9,435.3 524.8,427.4 525.6,420.1 526.4,413.3 527.2,406.9 528.0,400.9 528.8,395.3 529.6,389.9 530.5,384.8 531.3,380.0 532.1,375.4 532.9,371.0 533.7,366.8 534.5,362.8 535.4,359.0 536.2,355.3 537.0,351.7 537.8,348.3 538.6,345.0 539.4,341.8 540.2,338.8 541.1,335.8 541.9,333.0 542.7,330.2 543.5,327.5 544.3,324.9 545.1,322.4 545.9,320.0 546.8,317.7 547.6,315.4 548.4,313.2 549.2,311.1 550.0,309.0 550.8,307.0 551.7,305.0 552.5,303.1 553.3,301.3 554.1,299.5 554.9,297.8 555.7,296.1 556.5,294.5 557.4,292.9 558.2,291.4 559.0,289.9 559.8,288.5 560.6,287.1 561.4,285.7 562.3,284.4 563.1,283.1 563.9,281.9 564.7,280.7 565.5,279.6 566.3,278.4 567.1,277.4 568.0,276.3 568.8,275.3 569.6,274.3 570.4,273.4 571.2,272.5 572.0,271.6 572.9,270.8 573.7,270.0 574.5,269.3 575.3,268.5 576.1,267.8 576.9,267.2 577.7,266.5 578.6,265.9 579.4,265.3 580.2,264.8 581.0,264.3 581.8,263.8 582.6,263.4 583.5,262.9 584.3,262.5 585.1,262.2 585.9,261.9 586.7,261.6 587.5,261.3 588.3,261.0 589.2,260.8 590.0,260.7 590.8,260.5 591.6,260.4 592.4,260.3 593.2,260.2 594.0,260.2 594.9,260.2 595.7,260.2 596.5,260.3 597.3,260.4 598.1,260.5 598.9,260.6 599.8,260.8 600.6,261.0 601.4,261.2 602.2,261.5 603.0,261.8 603.8,262.1 604.6,262.5 605.5,262.9 606.3,263.3 607.1,263.8 607.9,264.3 608.7,264.8 609.5,265.3 610.4,265.9 611.2,266.5 612.0,267.2 612.8,267.9 613.6,268.6 614.4,269.4 615.2,270.2 616.1,271.0 616.9,271.9 617.7,272.8 618.5,273.7 619.3,274.7 620.1,275.7 621.0,276.8 621.8,277.9 622.6,279.1 623.4,280.3 624.2,281.5 625.0,282.8 625.8,284.1 626.7,285.5 627.5,286.9 628.3,288.3 629.1,289.8 629.9,291.4 630.7,293.0 631.6,294.7 632.4,296.4 633.2,298.2 634.0,300.0 634.8,301.9 635.6,303.9 636.4,305.9 637.3,308.0 638.1,310.1 638.9,312.3 639.7,314.6 640.5,317.0 641.3,319.4 642.2,321.9 643.0,324.5 643.8,327.2 644.6,330.0 645.4,332.9 646.2,335.8 647.0,338.9 647.9,342.1 648.7,345.4 649.5,348.8 650.3,352.3 651.1,356.0 651.9,359.8 652.8,363.7 653.6,367.8 654.4,372.1 655.2,376.5 656.0,381.2 656.8,386.0 657.6,391.1 658.5,396.4 659.3,402.0 660.1,407.8 660.9,414.0 661.7,420.5 662.5,427.4 663.3,434.8 664.2,442.6 665.0,451.0 665.8,460.1 666.6,469.9 667.4,480.6 668.2,492.5 669.1,505.6 669.9,520.5 670.7,537.6 671.5,557.8 672.3,582.4 673.1,614.3 673.9,654.7 674.8,654.7 675.6,654.7 676.4,654.7 677.2,648.1 678.0,610.9 678.8,584.5 679.7,564.2 680.5,547.8 681.3,534.2 682.1,522.6 682.9,512.7 683.7,504.0 684.5,496.3 685.4,489.6 686.2,483.6 687.0,478.2 687.8,473.5 688.6,469.2 689.4,465.5 690.3,462.1 691.1,459.2 691.9,456.7 692.7,454.4 693.5,452.6 694.3,451.0 695.1,449.7 696.0,448.8 696.8,448.1 697.6,447.8 698.4,447.7 699.2,447.9 700.0,448.4 700.9,449.2 701.7,450.3 702.5,451.8 703.3,453.6 704.1,455.7 704.9,458.3 705.7,461.2 706.6,464.6 707.4,468.4 708.2,472.8 709.0,477.8 709.8,483.5 710.6,489.9 711.5,497.1 712.3,505.3 713.1,514.6 713.9,525.2 714.7,537.3 715.5,550.8 716.3,565.4 717.2,563.4 718.0,568.1 718.8,572.8 719.6,577.5 720.0,579.8 720.4,571.0 721.2,553.3 722.0,535.6 722.9,517.9 723.7,501.0 724.5,486.4 725.3,473.0 726.1,460.7 726.9,449.3 727.8,438.8 728.6,429.0 729.4,419.8 730.2,411.2 731.0,403.0 731.8,395.3 732.6,388.0 733.5,381.0 734.3,374.3 735.1,368.0 735.9,361.9 736.7,356.0 737.5,350.4 738.4,345.0 739.2,339.8 740.0,334.8 740.8,329.9 741.6,325.2 742.4,320.7 743.2,316.3 744.1,312.1 744.9,308.0 745.7,304.0 746.5,300.1 747.3,296.3 748.1,292.7 749.0,289.1 749.8,285.7 750.6,282.3 751.4,279.0 752.2,275.9 753.0,272.8 753.8,269.8 754.7,266.8 755.5,264.0 756.3,261.2 757.1,258.5 757.9,255.9 758.7,253.3 759.6,250.8 760.4,248.4 761.2,246.0 762.0,243.7 762.8,241.5 763.6,239.3 764.4,237.2 765.3,235.2 766.1,233.2 766.9,231.2 767.7,229.3 768.5,227.5 769.3,225.7 770.2,224.0 771.0,222.3 771.8,220.7 772.6,219.1 773.4,217.6 774.2,216.2 775.0,214.7 775.9,213.4 776.7,212.1 777.5,210.8 778.3,209.6 779.1,208.4 779.9,207.3 780.7,206.2 781.6,205.2 782.4,204.2 783.2,203.3 784.0,202.4 784.8,201.6 785.6,200.8 786.5,200.1 787.3,199.4 788.1,198.8 788.9,198.2 789.7,197.7 790.5,197.2 791.3,196.8 792.2,196.4 793.0,196.1 793.8,195.8 794.6,195.6 795.4,195.4 796.2,195.3 797.1,195.3 797.9,195.3 798.7,195.3 799.5,195.5 800.3,195.7 801.1,195.9 801.9,196.2 802.8,196.6 803.6,197.0 804.4,197.5 805.2,198.1 806.0,198.8 806.8,199.5 807.7,200.3 808.5,201.2 809.3,202.1 810.1,203.2 810.9,204.3 811.7,205.5 812.5,206.8 813.4,208.2 814.2,209.7 815.0,211.3 815.8,213.0 816.6,214.8 817.4,216.7 818.3,218.8 819.1,221.0 819.9,223.3 820.7,225.8 821.5,228.4 822.3,231.2 823.1,234.2 824.0,237.4 824.8,240.8 825.6,244.4 826.4,248.2 827.2,252.3 828.0,256.8 828.9,261.5 829.7,266.6 830.5,272.2 831.3,278.2 832.1,284.7 832.9,291.9 833.7,299.7 834.6,308.5 835.4,318.2 836.2,329.3 837.0,341.9 837.8,356.7 838.6,374.3 839.4,395.9 840.3,423.7 841.1,444.6 841.9,465.5 842.7,486.4 843.5,507.3 844.3,471.1 845.2,434.9 846.0,398.7 846.8,362.6 847.6,343.8 848.4,327.7 849.2,313.6 850.0,301.1 850.9,289.8 851.7,279.5 852.5,270.1 853.3,261.3 854.1,253.2 854.9,245.6 855.8,238.4 856.6,231.7 857.4,225.3 858.2,219.2 859.0,213.4 859.8,207.9 860.6,202.7 861.5,197.6 862.3,192.8 863.1,188.1 863.9,183.6 864.7,179.3 865.5,175.1 866.4,171.1 867.2,167.2 868.0,163.5 868.8,159.8 869.6,156.3 870.4,152.8 871.2,149.5 872.1,146.3 872.9,143.1 873.7,140.1 874.5,137.1 875.3,134.2 876.1,131.4 877.0,128.6 877.8,126.0 878.6,123.4 879.4,120.8 880.2,118.3 881.0,115.9 881.8,113.6 882.7,111.3 883.5,109.0 884.3,106.8 885.1,104.7 885.9,102.6 886.7,100.5 887.6,98.5 888.4,96.6 889.2,94.7 890.0,92.8 890.8,91.0 891.6,89.2 892.4,87.5 893.3,85.8 894.1,84.2 894.9,82.6 895.7,81.0 896.5,79.4 897.3,77.9 898.1,76.5 899.0,75.0 899.8,73.6 900.6,72.3 901.4,70.9 902.2,69.6 903.0,68.4 903.9,67.1 904.7,65.9 905.5,64.8 906.3,63.6 907.1,62.5 907.9,61.4 908.7,60.4 909.6,59.3 910.4,58.3 911.2,57.4 912.0,56.4 912.8,55.5 913.6,54.6 914.5,53.8 915.3,52.9 916.1,52.1 916.9,51.4 917.7,50.6 918.5,49.9 919.3,49.2 920.2,48.5 921.0,47.8 921.8,47.2 922.6,46.6 923.4,46.0 924.2,45.5 925.1,45.0 925.9,44.5 926.7,44.0 927.5,43.5 928.3,43.1 929.1,42.7 929.9,42.3 930.8,41.9 931.6,41.6 932.4,41.3 933.2,41.0 934.0,40.7 934.8,40.5 935.7,40.3 936.5,40.1 937.3,39.9 938.1,39.8 938.9,39.6 939.7,39.5 940.5,39.5 941.4,39.5 942.2,39.5 943.0,39.5 943.8,39.5 944.6,39.5 945.4,39.5 946.3,39.5 947.1,39.6 947.9,39.7 948.7,39.9 949.5,40.0 950.3,40.2 951.1,40.4 952.0,40.7 952.8,40.9 953.6,41.2 954.4,41.5 955.2,41.9 956.0,42.2 956.8,42.6 957.7,43.0 958.5,43.4 959.3,43.9 960.1,44.4 960.9,44.9 961.7,45.4 962.6,45.9 963.4,46.5 964.2,47.1 965.0,47.7 965.8,48.4 966.6,49.0 967.4,49.7 968.3,50.5 969.1,51.2 969.9,52.0 970.7,52.8 971.5,53.6 972.3,54.5 973.2,55.3 974.0,56.3 974.8,57.2 975.6,58.2 976.4,59.2 977.2,60.2 978.0,61.2 978.9,62.3 979.7,63.4 980.5,64.6 981.3,65.7 982.1,66.9 982.9,68.2 983.8,69.4 984.6,70.7 985.4,72.1 986.2,73.4 987.0,74.8 987.8,76.3 988.6,77.7 989.5,79.2 990.3,80.8 991.1,82.3 991.9,84.0 992.7,85.6 993.5,87.3 994.4,89.0 995.2,90.8 996.0,92.6 996.8,94.5 997.6,96.4 998.4,98.4 999.2,100.4 1000.1,102.4 1000.9,104.5 1001.7,106.6 1002.5,108.8 1003.3,111.1 1004.1,113.4 1005.0,115.8 1005.8,118.2 1006.6,120.7 1007.4,123.2 1008.2,125.9 1009.0,128.5 1009.8,131.3 1010.7,134.1 1011.5,137.0 1012.3,140.0 1013.1,143.1 1013.9,146.3 1014.7,149.5 1015.5,152.9 1016.4,156.3 1017.2,159.9 1018.0,163.5 1018.8,167.3 1019.6,171.2 1020.4,175.3 1021.3,179.5 1022.1,183.8 1022.9,188.4 1023.7,193.0 1024.5,197.9 1025.3,203.0 1026.1,208.3 1027.0,213.9 1027.8,219.7 1028.6,225.8 1029.4,232.2 1030.2,239.0 1031.0,246.1 1031.9,253.8 1032.7,261.9 1033.5,270.6 1034.3,279.9 1035.1,290.1 1035.9,301.1 1036.7,313.1 1037.6,326.3 1038.4,341.0 1039.2,358.6 1040.0,376.2 1040.8,393.8 1041.6,411.4 1042.5,406.7 1043.3,402.0 1044.1,397.4 1044.9,398.4 1045.7,381.3 1046.5,365.2 1047.3,350.7 1048.2,337.7 1049.0,326.2 1049.8,315.9 1050.6,306.6 1051.4,298.2 1052.2,290.5 1053.1,283.6 1053.9,277.2 1054.7,271.3 1055.5,265.9 1056.3,260.9 1057.1,256.2 1057.9,251.9 1058.8,247.8 1059.6,244.0 1060.4,240.5 1061.2,237.2 1062.0,234.1 1062.8,231.2 1063.7,228.5 1064.5,225.9 1065.3,223.5 1066.1,221.3 1066.9,219.2 1067.7,217.2 1068.5,215.3 1069.4,213.6 1070.2,211.9 1071.0,210.4 1071.8,209.0 1072.6,207.6 1073.4,206.4 1074.2,205.2 1075.1,204.2 1075.9,203.2 1076.7,202.2 1077.5,201.4 1078.3,200.6 1079.1,199.9 1080.0,199.3 1080.8,198.7 1081.6,198.2 1082.4,197.7 1083.2,197.3 1084.0,197.0 1084.8,196.7 1085.7,196.5 1086.5,196.3 1087.3,196.2 1088.1,196.1 1088.9,196.1 1089.7,196.1 1090.6,196.2 1091.4,196.3 1092.2,196.5 1093.0,196.7 1093.8,197.0 1094.6,197.3 1095.4,197.7 1096.3,198.1 1097.1,198.6 1097.9,199.1 1098.7,199.6 1099.5,200.2 1100.3,200.9 1101.2,201.6 1102.0,202.3 1102.8,203.1 1103.6,203.9 1104.4,204.8 1105.2,205.7 1106.0,206.6 1106.9,207.6 1107.7,208.7 1108.5,209.8 1109.3,210.9 1110.1,212.1 1110.9,213.3 1111.8,214.5 1112.6,215.9 1113.4,217.2 1114.2,218.6 1115.0,220.0 1115.8,221.5 1116.6,223.1 1117.5,224.6 1118.3,226.3 1119.1,227.9 1119.9,229.6 1120.7,231.4 1121.5,233.2 1122.3,235.1 1123.2,237.0 1124.0,238.9 1124.8,240.9 1125.6,243.0 1126.4,245.1 1127.2,247.3 1128.1,249.5 1128.9,251.7 1129.7,254.0 1130.5,256.4 1131.3,258.8 1132.1,261.3 1132.9,263.9 1133.8,266.5 1134.6,269.1 1135.4,271.8 1136.2,274.6 1137.0,277.4 1137.8,280.3 1138.7,283.3 1139.5,286.3 1140.3,289.4 1141.1,292.6 1141.9,295.8 1142.7,299.1 1143.5,302.5 1144.4,305.9 1145.2,309.4 1146.0,313.0 1146.8,316.7 1147.6,320.4 1148.4,324.2 1149.3,328.1 1150.1,332.1 1150.9,336.1 1151.7,340.2 1152.5,344.4 1153.3,348.7 1154.1,353.0 1155.0,357.4 1155.8,361.8 1156.6,366.4 1157.4,370.9 1158.2,375.6 1159.0,380.2 1159.9,384.9 1160.7,389.6 1161.5,394.3 1162.3,399.0 1163.1,403.6 1163.9,408.2 1164.7,412.7 1165.6,417.2 1166.4,421.4 1167.2,425.6 1168.0,429.5 1168.8,433.3 1169.6,436.8 1170.5,452.3 1171.3,480.1 1172.1,507.8 1172.9,535.5 1173.3,549.4 1173.7,537.3 1174.5,513.1 1175.3,489.0 1176.2,464.8 1177.0,452.5 1177.8,451.5 1178.6,450.2 1179.4,448.5 1180.2,446.6 1181.1,444.6 1181.9,442.6 1182.7,440.6 1183.5,438.7 1184.3,437.0 1185.1,435.6 1185.9,434.5 1186.8,433.9 1187.6,433.8 1188.4,434.3 1189.2,435.5 1190.0,437.5 1190.8,440.3 1191.6,444.1 1192.5,449.6 1193.3,457.0 1194.1,466.4 1194.9,477.3 1195.7,489.8 1196.5,503.5 1197.4,518.4 1198.2,534.3 1199.0,551.0 1199.8,566.4 1200.6,581.8 1201.4,597.2 1202.2,612.6 1203.1,607.9 1203.9,603.2 1204.7,598.5 1205.5,596.7 1206.3,578.7 1207.1,561.2 1208.0,545.0 1208.8,530.3 1209.6,516.7 1210.4,504.4 1211.2,493.0 1212.0,482.6 1212.8,472.8 1213.7,463.8 1214.5,455.3 1215.3,447.3 1216.1,439.8 1216.9,432.7 1217.7,426.0 1218.6,419.6 1219.4,413.5 1220.2,407.7 1221.0,402.2 1221.8,396.9 1222.6,391.8 1223.4,387.0 1224.3,382.3 1225.1,377.8 1225.9,373.4 1226.7,369.3 1227.5,365.2 1228.3,361.3 1229.2,357.6 1230.0,354.0 1230.8,350.4 1231.6,347.0 1232.4,343.8 1233.2,340.6 1234.0,337.5 1234.9,334.5 1235.7,331.6 1236.5,328.8 1237.3,326.1 1238.1,323.4 1238.9,320.9 1239.8,318.4 1240.6,316.0 1241.4,313.6 1242.2,311.3 1243.0,309.1 1243.8,307.0 1244.6,304.9 1245.5,302.9 1246.3,300.9 1247.1,299.0 1247.9,297.2 1248.7,295.4 1249.5,293.6 1250.3,291.9 1251.2,290.3 1252.0,288.7 1252.8,287.2 1253.6,285.7 1254.4,284.2 1255.2,282.8 1256.1,281.5 1256.9,280.2 1257.7,278.9 1258.5,277.7 1259.3,276.5 1260.1,275.3 1260.9,274.2 1261.8,273.2 1262.6,272.1 1263.4,271.1 1264.2,270.2 1265.0,269.3 1265.8,268.4 1266.7,267.6 1267.5,266.8 1268.3,266.0 1269.1,265.2 1269.9,264.5 1270.7,263.9 1271.5,263.2 1272.4,262.6 1273.2,262.1 1274.0,261.5 1274.8,261.0 1275.6,260.6 1276.4,260.1 1277.3,259.7 1278.1,259.3 1278.9,259.0 1279.7,258.7 1280.5,258.4 1281.3,258.2 1282.1,257.9 1283.0,257.7 1283.8,257.6 1284.6,257.5 1285.4,257.4 1286.2,257.3 1287.0,257.3 1287.9,257.2 1288.7,257.3 1289.5,257.3 1290.3,257.4 1291.1,257.5 1291.9,257.6 1292.7,257.8 1293.6,258.0 1294.4,258.2 1295.2,258.5 1296.0,258.7 1296.8,259.1 1297.6,259.4 1298.5,259.8 1299.3,260.2 1300.1,260.6 1300.9,261.0 1301.7,261.5 1302.5,262.1 1303.3,262.6 1304.2,263.2 1305.0,263.8 1305.8,264.4 1306.6,265.1 1307.4,265.8 1308.2,266.6 1309.0,267.3 1309.9,268.1 1310.7,269.0 1311.5,269.9 1312.3,270.8 1313.1,271.7 1313.9,272.7 1314.8,273.7 1315.6,274.8 1316.4,275.9 1317.2,277.0 1318.0,278.2 1318.8,279.4 1319.6,280.6 1320.5,281.9 1321.3,283.2 1322.1,284.6 1322.9,286.0 1323.7,287.5 1324.5,289.0 1325.4,290.6 1326.2,292.2 1327.0,293.9 1327.8,295.6 1328.6,297.4 1329.4,299.2 1330.2,301.1 1331.1,303.0 1331.9,305.0 1332.7,307.1 1333.5,309.2 1334.3,311.4 1335.1,313.7 1336.0,316.0 1336.8,318.5 1337.6,321.0 1338.4,323.6 1339.2,326.3 1340.0,329.0 1340.8,331.9 1341.7,334.9 1342.5,338.0 1343.3,341.2 1344.1,344.5 1344.9,348.0 1345.7,351.6 1346.6,355.4 1347.4,359.3 1348.2,363.4 1349.0,367.7 1349.8,372.2 1350.6,376.9 1351.4,381.8 1352.3,387.0 1353.1,392.6 1353.9,398.4 1354.7,404.6 1355.5,411.2 1356.3,418.3 1357.2,426.0 1358.0,434.2 1358.8,443.2 1359.6,453.1 1360.4,464.0 1361.2,476.2 1362.0,490.0 1362.9,506.1 1363.7,525.1 1364.5,548.5 1365.3,578.9 1366.1,589.2 1366.9,589.2 1367.7,589.2 1368.6,589.2 1369.4,589.2 1370.2,572.2 1371.0,544.1 1371.8,522.2 1372.6,504.2 1373.5,489.1 1374.3,476.0 1375.1,464.4 1375.9,454.1 1376.7,444.8 1377.5,436.3 1378.3,428.5 1379.2,421.4 1380.0,414.7 1380.8,408.5 1381.6,402.7 1382.4,397.3 1383.2,392.2 1384.1,387.4 1384.9,382.8 1385.7,378.5 1386.5,374.3 1387.3,370.4 1388.1,366.7 1388.9,363.1 1389.8,359.7 1390.6,356.5 1391.4,353.3 1392.2,350.3 1393.0,347.5 1393.8,344.7 1394.7,342.1 1395.5,339.5 1396.3,337.0 1397.1,334.7 1397.9,332.4 1398.7,330.2 1399.5,328.1 1400.4,326.0 1401.2,324.0 1402.0,322.1 1402.8,320.3 1403.6,318.5 1404.4,316.8 1405.3,315.1 1406.1,313.5 1406.9,311.9 1407.7,310.4 1408.5,309.0 1409.3,307.6 1410.1,306.2 1411.0,304.9 1411.8,303.6 1412.6,302.3 1413.4,301.2 1414.2,300.0 1415.0,298.9 1415.9,297.8 1416.7,296.7 1417.5,295.7 1418.3,294.7 1419.1,293.8 1419.9,292.9 1420.7,292.0 1421.6,291.1 1422.4,290.3 1423.2,289.5 1424.0,288.7 1424.8,288.0 1425.6,287.3 1426.4,286.6 1427.3,285.9 1428.1,285.3 1428.9,284.7 1429.7,284.1 1430.5,283.5 1431.3,283.0 1432.2,282.5 1433.0,282.0 1433.8,281.5 1434.6,281.0 1435.4,280.6 1436.2,280.2 1437.0,279.8 1437.9,279.4 1438.7,279.0 1439.5,278.7 1440.3,278.3 1441.1,278.0 1441.9,277.7 1442.8,277.5 1443.6,277.2 1444.4,277.0 1445.2,276.8 1446.0,276.6 1446.8,276.4 1447.6,276.2 1448.5,276.0 1449.3,275.9 1450.1,275.8 1450.9,275.6 1451.7,275.5 1452.5,275.5 1453.4,275.4 1454.2,275.3 1455.0,275.3 1455.8,275.2 1456.6,275.2 1457.4,275.2 1458.2,275.2 1459.1,275.2 1459.9,275.3 1460.7,275.3 1461.5,275.4 1462.3,275.4 1463.1,275.5 1464.0,275.6 1464.8,275.7 1465.6,275.9 1466.4,276.0 1467.2,276.1 1468.0,276.3 1468.8,276.5 1469.7,276.6 1470.5,276.8 1471.3,277.1 1472.1,277.3 1472.9,277.5 1473.7,277.7 1474.6,278.0 1475.4,278.3 1476.2,278.5 1477.0,278.8 1477.8,279.1 1478.6,279.5 1479.4,279.8 1480.3,280.1 1481.1,280.5 1481.9,280.8 1482.7,281.2 1483.5,281.6 1484.3,282.0 1485.1,282.4 1486.0,282.8 1486.8,283.2 1487.6,283.6 1488.4,284.1 1489.2,284.5 1490.0,285.0 1490.9,285.5 1491.7,286.0 1492.5,286.5 1493.3,287.0 1494.1,287.5 1494.9,288.0 1495.7,288.5 1496.6,289.1 1497.4,289.7 1498.2,290.2 1499.0,290.8 1499.8,291.4 1500.6,292.0 1501.5,292.6 1502.3,293.2 1503.1,293.9 1503.9,294.5 1504.7,295.2 1505.5,295.8 1506.3,296.5 1507.2,297.2 1508.0,297.9 1508.8,298.6 1509.6,299.3 1510.4,300.0 1511.2,300.8 1512.1,301.5 1512.9,302.3 1513.7,303.0 1514.5,303.8 1515.3,304.6 1516.1,305.4 1516.9,306.2 1517.8,307.0 1518.6,307.8 1519.4,308.7 1520.2,309.5 1521.0,310.4 1521.8,311.3 1522.7,312.1 1523.5,313.0 1524.3,313.9 1525.1,314.8 1525.9,315.8 1526.7,316.7 1527.5,317.7 1528.4,318.6 1529.2,319.6 1530.0,320.6 1530.8,321.6 1531.6,322.6 1532.4,323.6 1533.3,324.6 1534.1,325.6 1534.9,326.7 1535.7,327.7 1536.5,328.8 1537.3,329.9 1538.1,331.0 1539.0,332.1 1539.8,333.2 1540.6,334.3 1541.4,335.5 1542.2,336.6 1543.0,337.8 1543.8,339.0 1544.7,340.2 1545.5,341.4 1546.3,342.6 1547.1,343.8 1547.9,345.1 1548.7,346.3 1549.6,347.6 1550.4,348.9 1551.2,350.2 1552.0,351.5 1552.8,352.9 1553.6,354.2 1554.4,355.6 1555.3,356.9 1556.1,358.3 1556.9,359.7 1557.7,361.1 1558.5,362.6 1559.3,364.0 1560.2,365.5 1561.0,367.0 1561.8,368.5 1562.6,370.0 1563.4,371.5 1564.2,373.1 1565.0,374.6 1565.9,376.2 1566.7,377.8 1567.5,379.4 1568.3,381.1 1569.1,382.7 1569.9,384.4 1570.8,386.1 1571.6,387.8 1572.4,389.6 1573.2,391.3 1574.0,393.1 1574.8,394.9 1575.6,396.8 1576.5,398.6 1577.3,400.5 1578.1,402.4 1578.9,404.3 1579.7,406.3 1580.5,408.2 1581.4,410.2 1582.2,412.3 1583.0,414.3 1583.8,416.4 1584.6,418.5 1585.4,420.7 1586.2,422.8 1587.1,425.0 1587.9,427.3 1588.7,429.5 1589.5,431.8 1590.3,434.2 1591.1,436.6 1592.0,439.0 1592.8,441.4 1593.6,443.9 1594.4,446.5 1595.2,449.1 1596.0,451.7 1596.8,454.4 1597.7,457.1 1598.5,459.9 1599.3,462.7 1600.1,465.6 1600.9,468.5 1601.7,471.5 1602.5,474.5 1603.4,477.6 1604.2,480.8 1605.0,484.1 1605.8,487.4 1606.6,490.8 1607.4,494.3 1608.3,497.9 1609.1,501.6 1609.9,505.3 1610.7,509.2 1611.5,513.1 1612.3,517.2 1613.1,521.4 1614.0,525.8 1614.8,530.2 1615.6,534.9 1616.4,539.6 1617.2,544.6 1618.0,549.7 1618.9,555.1 1619.7,560.7 1620.5,566.5 1621.3,572.6 1622.1,579.0 1622.9,585.7 1623.7,592.8 1624.6,600.3 1625.4,608.3 1626.2,616.8 1627.0,626.0 1627.8,635.9 1628.6,646.8 1629.5,658.7 1630.3,672.0 1631.1,687.0 1631.9,704.4 1632.7,724.8 1633.5,724.8 1634.3,724.8 1635.2,724.8 1636.0,724.8 1636.8,724.8 1637.6,724.8 1638.4,724.8 1639.2,724.8 1640.1,724.8 1640.9,721.8 1641.7,705.3 1642.5,691.4 1643.3,679.4 1644.1,668.9 1644.9,659.6 1645.8,651.2 1646.6,643.7 1647.4,636.9 1648.2,630.6 1649.0,624.9 1649.8,619.6 1650.7,614.7 1651.5,610.1 1652.3,605.9 1653.1,602.0 1653.9,598.3 1654.7,594.8 1655.5,591.6 1656.4,588.6 1657.2,585.8 1658.0,583.1 1658.8,580.6 1659.6,578.3 1660.4,576.1 1661.2,574.0 1662.1,572.1 1662.9,570.3 1663.7,568.6 1664.5,567.0 1665.3,565.6 1666.1,564.2 1667.0,562.9 1667.8,561.7 1668.6,560.7 1669.4,559.7 1670.2,558.7 1671.0,557.9 1671.8,557.2 1672.7,556.5 1673.5,555.9 1674.3,555.4 1675.1,555.0 1675.9,554.6 1676.7,554.3 1677.6,554.1 1678.4,553.9 1679.2,553.9 1680.0,553.8"/>
<polyline stroke="#e0af30" points="212.5,476.0 213.3,475.9 214.1,475.9 214.9,475.9 215.8,475.9 216.6,475.8 217.4,475.8 218.2,475.7 219.0,475.7 219.8,475.6 220.7,475.6 221.5,475.5 222.3,475.4 223.1,475.4 223.9,475.3 224.7,475.2 225.5,475.1 226.4,475.0 227.2,474.9 228.0,474.7 228.8,474.6 229.6,474.4 230.4,474.3 231.3,474.1 232.1,473.9 232.9,473.7 233.7,473.5 234.5,473.3 235.3,473.0 236.1,472.8 237.0,472.5 237.8,472.2 238.6,471.9 239.4,471.5 240.2,471.2 241.0,470.8 241.8,470.4 242.7,470.0 243.5,469.5 244.3,469.0 245.1,468.5 245.9,468.0 246.7,467.5 247.6,466.9 248.4,466.3 249.2,465.6 250.0,465.0 250.8,464.3 251.6,463.6 252.4,462.8 253.3,462.1 254.1,461.3 254.9,460.5 255.7,459.6 256.5,458.7 257.3,457.8 258.2,456.9 259.0,455.9 259.8,454.9 260.6,453.9 261.4,452.9 262.2,451.8 263.0,450.7 263.9,449.6 264.7,448.5 265.5,447.3 266.3,446.1 267.1,444.9 267.9,443.7 268.8,442.5 269.6,441.2 270.4,439.9 271.2,438.6 272.0,437.3 272.8,436.0 273.6,434.7 274.5,433.3 275.3,431.9 276.1,430.6 276.9,429.2 277.7,427.8 278.5,426.4 279.4,425.0 280.2,423.5 281.0,422.1 281.8,420.7 282.6,419.2 283.4,417.8 284.2,416.3 285.1,414.9 285.9,413.4 286.7,411.9 287.5,410.5 288.3,409.0 289.1,407.5 290.0,406.1 290.8,404.6 291.6,403.1 292.4,401.7 293.2,400.2 294.0,398.7 294.8,397.3 295.7,395.8 296.5,394.4 297.3,392.9 298.1,391.5 298.9,390.0 299.7,388.6 300.5,387.2 301.4,385.7 302.2,384.3 303.0,382.9 303.8,381.5 304.6,380.1 305.4,378.7 306.3,377.3 307.1,375.9 307.9,374.5 308.7,373.1 309.5,371.7 310.3,370.4 311.1,369.0 312.0,367.7 312.8,366.3 313.6,365.0 314.4,363.7 315.2,362.4 316.0,361.0 316.9,359.7 317.7,358.4 318.5,357.2 319.3,355.9 320.1,354.6 320.9,353.3 321.7,352.1 322.6,350.8 323.4,349.6 324.2,348.4 325.0,347.1 325.8,345.9 326.6,344.7 327.5,343.5 328.3,342.3 329.1,341.1 329.9,340.0 330.7,338.8 331.5,337.7 332.3,336.5 333.2,335.4 334.0,334.2 334.8,333.1 335.6,332.0 336.4,330.9 337.2,329.8 338.1,328.7 338.9,327.6 339.7,326.6 340.5,325.5 341.3,324.5 342.1,323.4 342.9,322.4 343.8,321.4 344.6,320.3 345.4,319.3 346.2,318.3 347.0,317.3 347.8,316.4 348.7,315.4 349.5,314.4 350.3,313.5 351.1,312.5 351.9,311.6 352.7,310.6 353.5,309.7 354.4,308.8 355.2,307.9 356.0,307.0 356.8,306.1 357.6,305.2 358.4,304.4 359.2,303.5 360.1,302.7 360.9,301.8 361.7,301.0 362.5,300.2 363.3,299.3 364.1,298.5 365.0,297.7 365.8,297.0 366.6,296.2 367.4,295.4 368.2,294.6 369.0,293.9 369.8,293.1 370.7,292.4 371.5,291.7 372.3,291.0 373.1,290.2 373.9,289.5 374.7,288.9 375.6,288.2 376.4,287.5 377.2,286.8 378.0,286.2 378.8,285.5 379.6,284.9 380.4,284.3 381.3,283.6 382.1,283.0 382.9,282.4 383.7,281.8 384.5,281.3 385.3,280.7 386.2,280.1 387.0,279.6 387.8,279.0 388.6,278.5 389.4,278.0 390.2,277.5 391.0,277.0 391.9,276.5 392.7,276.0 393.5,275.5 394.3,275.0 395.1,274.6 395.9,274.1 396.8,273.7 397.6,273.3 398.4,272.9 399.2,272.4 400.0,272.1 400.8,271.7 401.6,271.3 402.5,270.9 403.3,270.6 404.1,270.2 404.9,269.9 405.7,269.6 406.5,269.3 407.4,269.0 408.2,268.7 409.0,268.4 409.8,268.1 410.6,267.9 411.4,267.6 412.2,267.4 413.1,267.2 413.9,266.9 414.7,266.7 415.5,266.6 416.3,266.4 417.1,266.2 418.0,266.1 418.8,265.9 419.6,265.8 420.4,265.7 421.2,265.6 422.0,265.5 422.8,265.4 423.7,265.3 424.5,265.3 425.3,265.2 426.1,265.2 426.9,265.2 427.7,265.2 428.5,265.2 429.4,265.2 430.2,265.3 431.0,265.3 431.8,265.4 432.6,265.5 433.4,265.6 434.3,265.7 435.1,265.8 435.9,266.0 436.7,266.1 437.5,266.3 438.3,266.5 439.1,266.7 440.0,266.9 440.8,267.2 441.6,267.5 442.4,267.7 443.2,268.0 444.0,268.3 444.9,268.7 445.7,269.0 446.5,269.4 447.3,269.8 448.1,270.2 448.9,270.6 449.7,271.0 450.6,271.5 451.4,272.0 452.2,272.5 453.0,273.0 453.8,273.5 454.6,274.1 455.5,274.7 456.3,275.3 457.1,275.9 457.9,276.6 458.7,277.3 459.5,278.0 460.3,278.7 461.2,279.5 462.0,280.2 462.8,281.1 463.6,281.9 464.4,282.7 465.2,283.6 466.1,284.6 466.9,285.5 467.7,286.5 468.5,287.5 469.3,288.5 470.1,289.6 470.9,290.7 471.8,291.9 472.6,293.0 473.4,294.3 474.2,295.5 475.0,296.8 475.8,298.1 476.7,299.5 477.5,300.9 478.3,302.4 479.1,303.9 479.9,305.4 480.7,307.0 481.5,308.7 482.4,310.4 483.2,312.1 484.0,314.0 484.8,315.8 485.6,317.8 486.4,319.8 487.2,321.8 488.1,324.0 488.9,326.2 489.7,328.5 490.5,330.8 491.3,333.3 492.1,335.8 493.0,338.5 493.8,341.2 494.6,344.0 495.4,347.0 496.2,350.1 497.0,353.3 497.8,356.6 498.7,360.1 499.5,363.7 500.3,367.5 501.1,371.5 501.9,375.7 502.7,380.1 503.6,384.7 504.4,389.6 505.2,394.8 506.0,400.3 506.8,406.2 507.6,412.4 508.4,419.1 509.3,426.3 510.1,434.1 510.9,442.6 511.7,451.9 512.5,462.1 513.3,473.5 514.2,486.4 515.0,501.1 515.8,518.1 516.6,538.2 517.4,560.8 518.2,582.2 519.0,603.6 519.9,625.0 520.2,633.6 520.7,617.5 521.5,590.8 522.3,564.0 523.1,537.2 523.9,514.5 524.8,497.5 525.6,482.7 526.4,469.7 527.2,458.2 528.0,447.7 528.8,438.3 529.6,429.6 530.5,421.6 531.3,414.1 532.1,407.2 532.9,400.7 533.7,394.6 534.5,388.9 535.4,383.4 536.2,378.3 537.0,373.4 537.8,368.8 538.6,364.3 539.4,360.1 540.2,356.0 541.1,352.1 541.9,348.4 542.7,344.8 543.5,341.4 544.3,338.1 545.1,334.9 545.9,331.8 546.8,328.8 547.6,325.9 548.4,323.2 549.2,320.5 550.0,317.9 550.8,315.4 551.7,313.0 552.5,310.6 553.3,308.3 554.1,306.1 554.9,304.0 555.7,301.9 556.5,299.9 557.4,298.0 558.2,296.1 559.0,294.2 559.8,292.5 560.6,290.7 561.4,289.1 562.3,287.5 563.1,285.9 563.9,284.4 564.7,282.9 565.5,281.5 566.3,280.1 567.1,278.7 568.0,277.4 568.8,276.2 569.6,275.0 570.4,273.8 571.2,272.7 572.0,271.6 572.9,270.5 573.7,269.5 574.5,268.5 575.3,267.6 576.1,266.7 576.9,265.8 577.7,264.9 578.6,264.1 579.4,263.4 580.2,262.6 581.0,261.9 581.8,261.3 582.6,260.6 583.5,260.0 584.3,259.5 585.1,258.9 585.9,258.4 586.7,257.9 587.5,257.5 588.3,257.1 589.2,256.7 590.0,256.3 590.8,256.0 591.6,255.7 592.4,255.5 593.2,255.3 594.0,255.1 594.9,254.9 595.7,254.8 596.5,254.7 597.3,254.6 598.1,254.5 598.9,254.5 599.8,254.6 600.6,254.6 601.4,254.7 602.2,254.8 603.0,254.9 603.8,255.1 604.6,255.3 605.5,255.6 606.3,255.8 607.1,256.1 607.9,256.5 608.7,256.9 609.5,257.3 610.4,257.7 611.2,258.2 612.0,258.7 612.8,259.2 613.6,259.8 614.4,260.4 615.2,261.0 616.1,261.7 616.9,262.4 617.7,263.1 618.5,263.9 619.3,264.7 620.1,265.6 621.0,266.5 621.8,267.4 622.6,268.4 623.4,269.4 624.2,270.4 625.0,271.5 625.8,272.6 626.7,273.8 627.5,275.0 628.3,276.3 629.1,277.6 629.9,278.9 630.7,280.3 631.6,281.8 632.4,283.3 633.2,284.8 634.0,286.4 634.8,288.0 635.6,289.7 636.4,291.5 637.3,293.3 638.1,295.2 638.9,297.1 639.7,299.1 640.5,301.1 641.3,303.2 642.2,305.4 643.0,307.6 643.8,309.9 644.6,312.3 645.4,314.8 646.2,317.3 647.0,319.9 647.9,322.6 648.7,325.4 649.5,328.3 650.3,331.3 651.1,334.4 651.9,337.5 652.8,340.8 653.6,344.2 654.4,347.7 655.2,351.4 656.0,355.2 656.8,359.1 657.6,363.2 658.5,367.4 659.3,371.8 660.1,376.4 660.9,381.1 661.7,386.1 662.5,391.3 663.3,396.8 664.2,402.5 665.0,408.5 665.8,414.8 666.6,421.5 667.4,428.5 668.2,436.1 669.1,444.1 669.9,452.6 670.7,461.8 671.5,471.8 672.3,482.7 673.1,494.6 673.9,507.9 674.8,522.8 675.6,539.8 676.4,559.6 677.2,583.4 678.0,615.5 678.8,647.7 679.7,679.8 680.5,712.0 681.3,679.7 682.1,647.5 682.9,615.3 683.7,583.1 684.5,564.6 685.4,549.5 686.2,536.7 687.0,525.9 687.8,516.5 688.6,508.4 689.4,501.2 690.3,494.9 691.1,489.4 691.9,484.5 692.7,480.2 693.5,476.4 694.3,473.1 695.1,470.2 696.0,467.8 696.8,465.7 697.6,464.0 698.4,462.7 699.2,461.7 700.0,461.1 700.9,460.7 701.7,460.7 702.5,461.1 703.3,461.7 704.1,462.7 704.9,464.1 705.7,465.7 706.6,467.7 707.4,470.1 708.2,472.8 709.0,476.0 709.8,479.4 710.6,483.3 711.5,487.5 712.3,492.1 713.1,496.9 713.9,501.8 714.7,506.8 715.5,511.5 716.3,515.5 717.2,518.5 718.0,519.8 718.8,519.2 719.6,516.4 720.4,511.4 721.2,504.7 722.0,496.6 722.9,487.6 723.7,478.2 724.5,468.7 725.3,459.2 726.1,449.9 726.9,440.8 727.8,432.1 728.6,423.7 729.4,415.6 730.2,407.9 731.0,400.4 731.8,393.3 732.6,386.4 733.5,379.8 734.3,373.4 735.1,367.3 735.9,361.4 736.7,355.7 737.5,350.2 738.4,344.9 739.2,339.7 740.0,334.7 740.8,329.9 741.6,325.2 742.4,320.7 743.2,316.3 744.1,312.1 744.9,307.9 745.7,303.9 746.5,300.0 747.3,296.2 748.1,292.5 749.0,288.9 749.8,285.4 750.6,282.0 751.4,278.6 752.2,275.4 753.0,272.2 753.8,269.2 754.7,266.2 755.5,263.3 756.3,260.4 757.1,257.7 757.9,255.0 758.7,252.3 759.6,249.8 760.4,247.3 761.2,244.8 762.0,242.5 762.8,240.1 763.6,237.9 764.4,235.7 765.3,233.6 766.1,231.5 766.9,229.5 767.7,227.5 768.5,225.6 769.3,223.7 770.2,221.9 771.0,220.1 771.8,218.4 772.6,216.8 773.4,215.2 774.2,213.6 775.0,212.1 775.9,210.6 776.7,209.2 777.5,207.8 778.3,206.5 779.1,205.2 779.9,204.0 780.7,202.8 781.6,201.7 782.4,200.6 783.2,199.6 784.0,198.6 784.8,197.6 785.6,196.7 786.5,195.9 787.3,195.1 788.1,194.3 788.9,193.6 789.7,192.9 790.5,192.3 791.3,191.7 792.2,191.2 793.0,190.7 793.8,190.2 794.6,189.8 795.4,189.5 796.2,189.2 797.1,189.0 797.9,188.8 798.7,188.6 799.5,188.5 800.3,188.5 801.1,188.5 801.9,188.6 802.8,188.7 803.6,188.9 804.4,189.1 805.2,189.4 806.0,189.8 806.8,190.2 807.7,190.6 808.5,191.2 809.3,191.8 810.1,192.5 810.9,193.2 811.7,194.0 812.5,194.9 813.4,195.8 814.2,196.9 815.0,198.0 815.8,199.2 816.6,200.5 817.4,201.8 818.3,203.3 819.1,204.9 819.9,206.6 820.7,208.3 821.5,210.2 822.3,212.2 823.1,214.4 824.0,216.6 824.8,219.0 825.6,221.6 826.4,224.3 827.2,227.1 828.0,230.2 828.9,233.4 829.7,236.9 830.5,240.5 831.3,244.4 832.1,248.6 832.9,253.0 833.7,257.8 834.6,262.9 835.4,268.4 836.2,274.2 837.0,280.5 837.8,287.3 838.6,294.7 839.4,302.6 840.3,311.2 841.1,320.3 841.9,330.1 842.7,340.3 843.5,350.6 844.3,360.4 845.2,368.4 846.0,373.2 846.8,373.5 847.6,369.0 848.4,360.6 849.2,349.9 850.0,338.1 850.9,326.1 851.7,314.5 852.5,303.4 853.3,292.9 854.1,283.1 854.9,273.8 855.8,265.1 856.6,256.9 857.4,249.2 858.2,241.9 859.0,235.0 859.8,228.5 860.6,222.2 861.5,216.3 862.3,210.6 863.1,205.2 863.9,200.0 864.7,195.0 865.5,190.2 866.4,185.6 867.2,181.1 868.0,176.8 868.8,172.7 869.6,168.7 870.4,164.8 871.2,161.1 872.1,157.4 872.9,153.9 873.7,150.5 874.5,147.2 875.3,143.9 876.1,140.8 877.0,137.8 877.8,134.8 878.6,131.9 879.4,129.1 880.2,126.4 881.0,123.7 881.8,121.1 882.7,118.6 883.5,116.2 884.3,113.8 885.1,111.4 885.9,109.1 886.7,106.9 887.6,104.7 888.4,102.6 889.2,100.5 890.0,98.5 890.8,96.5 891.6,94.6 892.4,92.7 893.3,90.9 894.1,89.1 894.9,87.3 895.7,85.6 896.5,83.9 897.3,82.3 898.1,80.7 899.0,79.2 899.8,77.6 900.6,76.2 901.4,74.7 902.2,73.3 903.0,71.9 903.9,70.6 904.7,69.3 905.5,68.0 906.3,66.8 907.1,65.6 907.9,64.4 908.7,63.2 909.6,62.1 910.4,61.0 911.2,60.0 912.0,59.0 912.8,58.0 913.6,57.0 914.5,56.1 915.3,55.2 916.1,54.3 916.9,53.4 917.7,52.6 918.5,51.8 919.3,51.0 920.2,50.3 921.0,49.6 921.8,48.9 922.6,48.2 923.4,47.6 924.2,46.9 925.1,46.3 925.9,45.8 926.7,45.2 927.5,44.7 928.3,44.2 929.1,43.8 929.9,43.3 930.8,42.9 931.6,42.5 932.4,42.1 933.2,41.8 934.0,41.5 934.8,41.2 935.7,40.9 936.5,40.7 937.3,40.4 938.1,40.2 938.9,40.1 939.7,39.9 940.5,39.8 941.4,39.7 942.2,39.6 943.0,39.5 943.8,39.5 944.6,39.5 945.4,39.5 946.3,39.5 947.1,39.6 947.9,39.6 948.7,39.7 949.5,39.9 950.3,40.0 951.1,40.2 952.0,40.4 952.8,40.6 953.6,40.8 954.4,41.1 955.2,41.4 956.0,41.7 956.8,42.1 957.7,42.4 958.5,42.8 959.3,43.2 960.1,43.7 960.9,44.1 961.7,44.6 962.6,45.1 963.4,45.7 964.2,46.2 965.0,46.8 965.8,47.4 966.6,48.0 967.4,48.7 968.3,49.4 969.1,50.1 969.9,50.8 970.7,51.6 971.5,52.4 972.3,53.2 973.2,54.1 974.0,55.0 974.8,55.9 975.6,56.8 976.4,57.8 977.2,58.7 978.0,59.8 978.9,60.8 979.7,61.9 980.5,63.0 981.3,64.1 982.1,65.3 982.9,66.5 983.8,67.7 984.6,69.0 985.4,70.3 986.2,71.6 987.0,73.0 987.8,74.4 988.6,75.8 989.5,77.3 990.3,78.8 991.1,80.4 991.9,82.0 992.7,83.6 993.5,85.2 994.4,87.0 995.2,88.7 996.0,90.5 996.8,92.3 997.6,94.2 998.4,96.1 999.2,98.1 1000.1,100.1 1000.9,102.2 1001.7,104.3 1002.5,106.4 1003.3,108.7 1004.1,110.9 1005.0,113.3 1005.8,115.7 1006.6,118.1 1007.4,120.6 1008.2,123.2 1009.0,125.9 1009.8,128.6 1010.7,131.4 1011.5,134.3 1012.3,137.2 1013.1,140.2 1013.9,143.4 1014.7,146.6 1015.5,149.9 1016.4,153.3 1017.2,156.8 1018.0,160.4 1018.8,164.1 1019.6,168.0 1020.4,172.0 1021.3,176.1 1022.1,180.3 1022.9,184.8 1023.7,189.4 1024.5,194.1 1025.3,199.1 1026.1,204.3 1027.0,209.7 1027.8,215.3 1028.6,221.2 1029.4,227.4 1030.2,233.9 1031.0,240.7 1031.9,248.0 1032.7,255.6 1033.5,263.7 1034.3,272.3 1035.1,281.5 1035.9,291.2 1036.7,301.6 1037.6,312.6 1038.4,324.2 1039.2,336.1 1040.0,348.0 1040.8,358.9 1041.6,367.8 1042.5,373.0 1043.3,373.6 1044.1,369.4 1044.9,361.9 1045.7,352.4 1046.5,342.1 1047.3,331.9 1048.2,322.0 1049.0,312.7 1049.8,304.1 1050.6,296.1 1051.4,288.6 1052.2,281.8 1053.1,275.4 1053.9,269.5 1054.7,263.9 1055.5,258.8 1056.3,254.0 1057.1,249.5 1057.9,245.3 1058.8,241.4 1059.6,237.7 1060.4,234.2 1061.2,231.0 1062.0,227.9 1062.8,225.0 1063.7,222.3 1064.5,219.7 1065.3,217.3 1066.1,215.1 1066.9,212.9 1067.7,210.9 1068.5,209.0 1069.4,207.2 1070.2,205.6 1071.0,204.0 1071.8,202.5 1072.6,201.2 1073.4,199.9 1074.2,198.7 1075.1,197.6 1075.9,196.5 1076.7,195.6 1077.5,194.7 1078.3,193.9 1079.1,193.2 1080.0,192.5 1080.8,191.9 1081.6,191.4 1082.4,190.9 1083.2,190.5 1084.0,190.2 1084.8,189.9 1085.7,189.7 1086.5,189.5 1087.3,189.4 1088.1,189.3 1088.9,189.3 1089.7,189.4 1090.6,189.5 1091.4,189.7 1092.2,189.9 1093.0,190.1 1093.8,190.4 1094.6,190.8 1095.4,191.2 1096.3,191.7 1097.1,192.2 1097.9,192.7 1098.7,193.3 1099.5,194.0 1100.3,194.7 1101.2,195.4 1102.0,196.2 1102.8,197.1 1103.6,198.0 1104.4,198.9 1105.2,199.9 1106.0,200.9 1106.9,202.0 1107.7,203.1 1108.5,204.3 1109.3,205.5 1110.1,206.7 1110.9,208.1 1111.8,209.4 1112.6,210.8 1113.4,212.3 1114.2,213.8 1115.0,215.4 1115.8,217.0 1116.6,218.6 1117.5,220.3 1118.3,222.1 1119.1,223.9 1119.9,225.8 1120.7,227.7 1121.5,229.7 1122.3,231.7 1123.2,233.8 1124.0,236.0 1124.8,238.2 1125.6,240.5 1126.4,242.8 1127.2,245.2 1128.1,247.6 1128.9,250.2 1129.7,252.8 1130.5,255.4 1131.3,258.2 1132.1,261.0 1132.9,263.9 1133.8,266.8 1134.6,269.9 1135.4,273.0 1136.2,276.2 1137.0,279.5 1137.8,282.9 1138.7,286.3 1139.5,289.9 1140.3,293.6 1141.1,297.4 1141.9,301.2 1142.7,305.2 1143.5,309.4 1144.4,313.6 1145.2,318.0 1146.0,322.5 1146.8,327.1 1147.6,331.9 1148.4,336.9 1149.3,342.0 1150.1,347.3 1150.9,352.7 1151.7,358.4 1152.5,364.2 1153.3,370.3 1154.1,376.5 1155.0,383.0 1155.8,389.7 1156.6,396.7 1157.4,403.9 1158.2,411.3 1159.0,419.0 1159.9,426.8 1160.7,434.8 1161.5,442.9 1162.3,451.0 1163.1,458.9 1163.9,466.5 1164.7,473.4 1165.6,479.5 1166.4,485.9 1167.2,492.2 1168.0,498.6 1168.8,505.0 1169.6,498.7 1170.5,492.5 1171.3,486.3 1172.1,480.1 1172.9,475.9 1173.7,471.5 1174.5,467.1 1175.3,462.7 1176.2,458.5 1177.0,454.5 1177.8,450.8 1178.6,447.2 1179.4,444.0 1180.2,441.0 1181.1,438.3 1181.9,435.9 1182.7,433.8 1183.5,431.9 1184.3,430.4 1185.1,429.1 1185.9,428.2 1186.8,427.5 1187.6,427.2 1188.4,427.2 1189.2,427.5 1190.0,428.1 1190.8,429.1 1191.6,430.5 1192.5,432.2 1193.3,434.4 1194.1,437.0 1194.9,440.1 1195.7,443.7 1196.5,447.7 1197.4,452.2 1198.2,457.1 1199.0,462.6 1199.8,468.5 1200.6,475.0 1201.4,482.1 1202.2,489.7 1203.1,498.0 1203.9,506.8 1204.7,516.2 1205.5,526.1 1206.3,536.1 1207.1,546.1 1208.0,556.1 1208.4,561.1 1208.8,558.8 1209.6,554.1 1210.4,549.4 1211.2,544.7 1212.0,538.6 1212.8,527.2 1213.7,515.2 1214.5,503.5 1215.3,492.2 1216.1,481.5 1216.9,471.5 1217.7,462.0 1218.6,453.1 1219.4,444.8 1220.2,436.9 1221.0,429.4 1221.8,422.4 1222.6,415.8 1223.4,409.4 1224.3,403.4 1225.1,397.7 1225.9,392.3 1226.7,387.0 1227.5,382.1 1228.3,377.3 1229.2,372.7 1230.0,368.3 1230.8,364.1 1231.6,360.0 1232.4,356.1 1233.2,352.3 1234.0,348.7 1234.9,345.2 1235.7,341.8 1236.5,338.5 1237.3,335.4 1238.1,332.3 1238.9,329.4 1239.8,326.5 1240.6,323.7 1241.4,321.1 1242.2,318.5 1243.0,315.9 1243.8,313.5 1244.6,311.2 1245.5,308.9 1246.3,306.7 1247.1,304.5 1247.9,302.4 1248.7,300.4 1249.5,298.5 1250.3,296.6 1251.2,294.7 1252.0,292.9 1252.8,291.2 1253.6,289.5 1254.4,287.9 1255.2,286.4 1256.1,284.8 1256.9,283.4 1257.7,281.9 1258.5,280.6 1259.3,279.2 1260.1,277.9 1260.9,276.7 1261.8,275.5 1262.6,274.3 1263.4,273.2 1264.2,272.1 1265.0,271.1 1265.8,270.1 1266.7,269.1 1267.5,268.2 1268.3,267.3 1269.1,266.5 1269.9,265.7 1270.7,264.9 1271.5,264.1 1272.4,263.4 1273.2,262.7 1274.0,262.1 1274.8,261.5 1275.6,260.9 1276.4,260.4 1277.3,259.9 1278.1,259.4 1278.9,258.9 1279.7,258.5 1280.5,258.1 1281.3,257.8 1282.1,257.4 1283.0,257.1 1283.8,256.9 1284.6,256.6 1285.4,256.4 1286.2,256.3 1287.0,256.1 1287.9,256.0 1288.7,255.9 1289.5,255.9 1290.3,255.8 1291.1,255.8 1291.9,255.9 1292.7,255.9 1293.6,256.0 1294.4,256.1 1295.2,256.2 1296.0,256.4 1296.8,256.6 1297.6,256.8 1298.5,257.0 1299.3,257.3 1300.1,257.6 1300.9,257.9 1301.7,258.2 1302.5,258.6 1303.3,259.0 1304.2,259.4 1305.0,259.9 1305.8,260.4 1306.6,260.9 1307.4,261.4 1308.2,262.0 1309.0,262.6 1309.9,263.2 1310.7,263.9 1311.5,264.6 1312.3,265.3 1313.1,266.0 1313.9,266.8 1314.8,267.6 1315.6,268.5 1316.4,269.4 1317.2,270.3 1318.0,271.2 1318.8,272.2 1319.6,273.2 1320.5,274.3 1321.3,275.4 1322.1,276.5 1322.9,277.7 1323.7,278.9 1324.5,280.2 1325.4,281.5 1326.2,282.9 1327.0,284.3 1327.8,285.7 1328.6,287.2 1329.4,288.7 1330.2,290.3 1331.1,292.0 1331.9,293.7 1332.7,295.4 1333.5,297.2 1334.3,299.1 1335.1,301.0 1336.0,303.0 1336.8,305.1 1337.6,307.2 1338.4,309.4 1339.2,311.7 1340.0,314.1 1340.8,316.5 1341.7,319.0 1342.5,321.6 1343.3,324.4 1344.1,327.2 1344.9,330.1 1345.7,333.1 1346.6,336.3 1347.4,339.5 1348.2,343.0 1349.0,346.5 1349.8,350.2 1350.6,354.1 1351.4,358.1 1352.3,362.4 1353.1,366.8 1353.9,371.5 1354.7,376.4 1355.5,381.6 1356.3,387.1 1357.2,392.9 1358.0,399.1 1358.8,405.7 1359.6,412.8 1360.4,420.4 1361.2,428.6 1362.0,437.6 1362.9,447.5 1363.7,458.5 1364.5,470.7 1365.3,484.7 1366.1,500.9 1366.9,520.1 1367.7,543.8 1368.6,574.3 1369.4,603.5 1370.2,632.6 1371.0,661.8 1371.7,685.1 1371.8,676.8 1372.6,635.3 1373.5,593.8 1374.3,552.3 1375.1,514.8 1375.9,497.0 1376.7,482.0 1377.5,469.0 1378.3,457.5 1379.2,447.2 1380.0,438.0 1380.8,429.5 1381.6,421.8 1382.4,414.7 1383.2,408.0 1384.1,401.8 1384.9,396.1 1385.7,390.6 1386.5,385.5 1387.3,380.7 1388.1,376.1 1388.9,371.8 1389.8,367.7 1390.6,363.8 1391.4,360.0 1392.2,356.4 1393.0,353.0 1393.8,349.8 1394.7,346.6 1395.5,343.6 1396.3,340.7 1397.1,337.9 1397.9,335.3 1398.7,332.7 1399.5,330.2 1400.4,327.8 1401.2,325.5 1402.0,323.3 1402.8,321.2 1403.6,319.1 1404.4,317.1 1405.3,315.1 1406.1,313.3 1406.9,311.5 1407.7,309.7 1408.5,308.0 1409.3,306.4 1410.1,304.8 1411.0,303.2 1411.8,301.8 1412.6,300.3 1413.4,298.9 1414.2,297.6 1415.0,296.3 1415.9,295.0 1416.7,293.8 1417.5,292.6 1418.3,291.4 1419.1,290.3 1419.9,289.2 1420.7,288.2 1421.6,287.2 1422.4,286.2 1423.2,285.2 1424.0,284.3 1424.8,283.4 1425.6,282.6 1426.4,281.7 1427.3,280.9 1428.1,280.2 1428.9,279.4 1429.7,278.7 1430.5,278.0 1431.3,277.3 1432.2,276.7 1433.0,276.0 1433.8,275.4 1434.6,274.9 1435.4,274.3 1436.2,273.8 1437.0,273.2 1437.9,272.8 1438.7,272.3 1439.5,271.8 1440.3,271.4 1441.1,271.0 1441.9,270.6 1442.8,270.2 1443.6,269.9 1444.4,269.5 1445.2,269.2 1446.0,268.9 1446.8,268.6 1447.6,268.3 1448.5,268.1 1449.3,267.9 1450.1,267.6 1450.9,267.4 1451.7,267.2 1452.5,267.1 1453.4,266.9 1454.2,266.8 1455.0,266.7 1455.8,266.5 1456.6,266.4 1457.4,266.4 1458.2,266.3 1459.1,266.2 1459.9,266.2 1460.7,266.2 1461.5,266.1 1462.3,266.1 1463.1,266.1 1464.0,266.2 1464.8,266.2 1465.6,266.3 1466.4,266.3 1467.2,266.4 1468.0,266.5 1468.8,266.6 1469.7,266.7 1470.5,266.8 1471.3,267.0 1472.1,267.1 1472.9,267.3 1473.7,267.5 1474.6,267.6 1475.4,267.8 1476.2,268.1 1477.0,268.3 1477.8,268.5 1478.6,268.8 1479.4,269.0 1480.3,269.3 1481.1,269.6 1481.9,269.9 1482.7,270.2 1483.5,270.5 1484.3,270.8 1485.1,271.1 1486.0,271.5 1486.8,271.8 1487.6,272.2 1488.4,272.6 1489.2,273.0 1490.0,273.4 1490.9,273.8 1491.7,274.2 1492.5,274.6 1493.3,275.1 1494.1,275.5 1494.9,276.0 1495.7,276.5 1496.6,277.0 1497.4,277.4 1498.2,277.9 1499.0,278.5 1499.8,279.0 1500.6,279.5 1501.5,280.1 1502.3,280.6 1503.1,281.2 1503.9,281.7 1504.7,282.3 1505.5,282.9 1506.3,283.5 1507.2,284.1 1508.0,284.7 1508.8,285.4 1509.6,286.0 1510.4,286.6 1511.2,287.3 1512.1,288.0 1512.9,288.6 1513.7,289.3 1514.5,290.0 1515.3,290.7 1516.1,291.4 1516.9,292.2 1517.8,292.9 1518.6,293.6 1519.4,294.4 1520.2,295.1 1521.0,295.9 1521.8,296.7 1522.7,297.5 1523.5,298.3 1524.3,299.1 1525.1,299.9 1525.9,300.7 1526.7,301.5 1527.5,302.4 1528.4,303.2 1529.2,304.1 1530.0,304.9 1530.8,305.8 1531.6,306.7 1532.4,307.6 1533.3,308.5 1534.1,309.4 1534.9,310.4 1535.7,311.3 1536.5,312.2 1537.3,313.2 1538.1,314.1 1539.0,315.1 1539.8,316.1 1540.6,317.1 1541.4,318.1 1542.2,319.1 1543.0,320.1 1543.8,321.1 1544.7,322.2 1545.5,323.2 1546.3,324.2 1547.1,325.3 1547.9,326.4 1548.7,327.5 1549.6,328.5 1550.4,329.6 1551.2,330.8 1552.0,331.9 1552.8,333.0 1553.6,334.1 1554.4,335.3 1555.3,336.4 1556.1,337.6 1556.9,338.8 1557.7,340.0 1558.5,341.1 1559.3,342.3 1560.2,343.6 1561.0,344.8 1561.8,346.0 1562.6,347.2 1563.4,348.5 1564.2,349.7 1565.0,351.0 1565.9,352.3 1566.7,353.6 1567.5,354.9 1568.3,356.2 1569.1,357.5 1569.9,358.8 1570.8,360.1 1571.6,361.5 1572.4,362.8 1573.2,364.2 1574.0,365.5 1574.8,366.9 1575.6,368.3 1576.5,369.7 1577.3,371.1 1578.1,372.5 1578.9,373.9 1579.7,375.4 1580.5,376.8 1581.4,378.2 1582.2,379.7 1583.0,381.1 1583.8,382.6 1584.6,384.1 1585.4,385.6 1586.2,387.0 1587.1,388.5 1587.9,390.0 1588.7,391.6 1589.5,393.1 1590.3,394.6 1591.1,396.1 1592.0,397.6 1592.8,399.2 1593.6,400.7 1594.4,402.3 1595.2,403.8 1596.0,405.4 1596.8,406.9 1597.7,408.5 1598.5,410.0 1599.3,411.6 1600.1,413.1 1600.9,414.7 1601.7,416.3 1602.5,417.8 1603.4,419.4 1604.2,420.9 1605.0,422.5 1605.8,424.0 1606.6,425.6 1607.4,427.1 1608.3,428.6 1609.1,430.1 1609.9,431.7 1610.7,433.2 1611.5,434.7 1612.3,436.1 1613.1,437.6 1614.0,439.0 1614.8,440.5 1615.6,441.9 1616.4,443.3 1617.2,444.7 1618.0,446.1 1618.9,447.4 1619.7,448.7 1620.5,450.0 1621.3,451.3 1622.1,452.6 1622.9,453.8 1623.7,455.0 1624.6,456.1 1625.4,457.3 1626.2,458.4 1627.0,459.5 1627.8,460.5 1628.6,461.5 1629.5,462.5 1630.3,463.4 1631.1,464.3 1631.9,465.2 1632.7,466.0 1633.5,466.8 1634.3,467.6 1635.2,468.3 1636.0,469.0 1636.8,469.7 1637.6,470.3 1638.4,470.9 1639.2,471.4 1640.1,471.9 1640.9,472.4 1641.7,472.9 1642.5,473.3 1643.3,473.7 1644.1,474.0 1644.9,474.3 1645.8,474.6 1646.6,474.9 1647.4,475.1 1648.2,475.4 1649.0,475.6 1649.8,475.7 1650.7,475.9 1651.5,476.0 1652.3,476.1 1653.1,476.2 1653.9,476.3 1654.7,476.3 1655.5,476.4 1656.4,476.4 1657.2,476.4 1658.0,476.4 1658.8,476.4 1659.6,476.4 1660.4,476.4 1661.2,476.3 1662.1,476.3 1662.9,476.3 1663.7,476.2 1664.5,476.2 1665.3,476.1 1666.1,476.1 1667.0,476.0 1667.8,475.9 1668.6,475.9 1669.4,475.8 1670.2,475.8 1671.0,475.7 1671.8,475.7 1672.7,475.6 1673.5,475.5 1674.3,475.5 1675.1,475.5 1675.9,475.4 1676.7,475.4 1677.6,475.3 1678.4,475.3 1679.2,475.3 1680.0,475.3"/>
<polyline stroke="#46bc34" points="212.5,512.0 213.3,512.0 214.1,512.0 214.9,512.0 215.8,512.0 216.6,512.0 217.4,512.1 218.2,512.1 219.0,512.1 219.8,512.2 220.7,512.2 221.5,512.3 222.3,512.3 223.1,512.3 223.9,512.4 224.7,512.4 225.5,512.5 226.4,512.5 227.2,512.5 228.0,512.6 228.8,512.6 229.6,512.6 230.4,512.6 231.3,512.6 232.1,512.6 232.9,512.5 233.7,512.5 234.5,512.4 235.3,512.3 236.1,512.2 237.0,512.0 237.8,511.9 238.6,511.7 239.4,511.4 240.2,511.2 241.0,510.9 241.8,510.6 242.7,510.2 243.5,509.8 244.3,509.4 245.1,508.9 245.9,508.4 246.7,507.9 247.6,507.2 248.4,506.6 249.2,505.9 250.0,505.2 250.8,504.4 251.6,503.5 252.4,502.6 253.3,501.7 254.1,500.7 254.9,499.7 255.7,498.6 256.5,497.5 257.3,496.3 258.2,495.1 259.0,493.9 259.8,492.6 260.6,491.2 261.4,489.8 262.2,488.4 263.0,487.0 263.9,485.5 264.7,484.0 265.5,482.4 266.3,480.8 267.1,479.2 267.9,477.6 268.8,475.9 269.6,474.3 270.4,472.6 271.2,470.9 272.0,469.1 272.8,467.4 273.6,465.6 274.5,463.8 275.3,462.1 276.1,460.3 276.9,458.5 277.7,456.7 278.5,454.8 279.4,453.0 280.2,451.2 281.0,449.4 281.8,447.6 282.6,445.7 283.4,443.9 284.2,442.1 285.1,440.3 285.9,438.5 286.7,436.6 287.5,434.8 288.3,433.0 289.1,431.2 290.0,429.5 290.8,427.7 291.6,425.9 292.4,424.1 293.2,422.4 294.0,420.6 294.8,418.9 295.7,417.1 296.5,415.4 297.3,413.7 298.1,412.0 298.9,410.3 299.7,408.6 300.5,407.0 301.4,405.3 302.2,403.6 303.0,402.0 303.8,400.4 304.6,398.7 305.4,397.1 306.3,395.5 307.1,393.9 307.9,392.4 308.7,390.8 309.5,389.3 310.3,387.7 311.1,386.2 312.0,384.7 312.8,383.2 313.6,381.7 314.4,380.2 315.2,378.7 316.0,377.2 316.9,375.8 317.7,374.3 318.5,372.9 319.3,371.5 320.1,370.1 320.9,368.7 321.7,367.3 322.6,365.9 323.4,364.6 324.2,363.2 325.0,361.9 325.8,360.5 326.6,359.2 327.5,357.9 328.3,356.6 329.1,355.3 329.9,354.1 330.7,352.8 331.5,351.5 332.3,350.3 333.2,349.1 334.0,347.9 334.8,346.6 335.6,345.4 336.4,344.2 337.2,343.1 338.1,341.9 338.9,340.7 339.7,339.6 340.5,338.5 341.3,337.3 342.1,336.2 342.9,335.1 343.8,334.0 344.6,332.9 345.4,331.8 346.2,330.8 347.0,329.7 347.8,328.7 348.7,327.6 349.5,326.6 350.3,325.6 351.1,324.6 351.9,323.6 352.7,322.6 353.5,321.6 354.4,320.6 355.2,319.7 356.0,318.7 356.8,317.8 357.6,316.9 358.4,315.9 359.2,315.0 360.1,314.1 360.9,313.2 361.7,312.4 362.5,311.5 363.3,310.6 364.1,309.8 365.0,308.9 365.8,308.1 366.6,307.3 367.4,306.5 368.2,305.6 369.0,304.9 369.8,304.1 370.7,303.3 371.5,302.5 372.3,301.8 373.1,301.0 373.9,300.3 374.7,299.6 375.6,298.8 376.4,298.1 377.2,297.4 378.0,296.7 378.8,296.1 379.6,295.4 380.4,294.7 381.3,294.1 382.1,293.4 382.9,292.8 383.7,292.2 384.5,291.6 385.3,291.0 386.2,290.4 387.0,289.8 387.8,289.2 388.6,288.7 389.4,288.1 390.2,287.6 391.0,287.1 391.9,286.5 392.7,286.0 393.5,285.5 394.3,285.0 395.1,284.5 395.9,284.1 396.8,283.6 397.6,283.2 398.4,282.7 399.2,282.3 400.0,281.9 400.8,281.5 401.6,281.1 402.5,280.7 403.3,280.3 404.1,280.0 404.9,279.6 405.7,279.3 406.5,278.9 407.4,278.6 408.2,278.3 409.0,278.0 409.8,277.7 410.6,277.5 411.4,277.2 412.2,276.9 413.1,276.7 413.9,276.5 414.7,276.3 415.5,276.1 416.3,275.9 417.1,275.7 418.0,275.5 418.8,275.4 419.6,275.2 420.4,275.1 421.2,275.0 422.0,274.9 422.8,274.8 423.7,274.7 424.5,274.7 425.3,274.6 426.1,274.6 426.9,274.5 427.7,274.5 428.5,274.5 429.4,274.6 430.2,274.6 431.0,274.6 431.8,274.7 432.6,274.8 433.4,274.9 434.3,275.0 435.1,275.1 435.9,275.2 436.7,275.4 437.5,275.6 438.3,275.7 439.1,275.9 440.0,276.2 440.8,276.4 441.6,276.6 442.4,276.9 443.2,277.2 444.0,277.5 444.9,277.8 445.7,278.1 446.5,278.5 447.3,278.9 448.1,279.3 448.9,279.7 449.7,280.1 450.6,280.6 451.4,281.1 452.2,281.6 453.0,282.1 453.8,282.6 454.6,283.2 455.5,283.8 456.3,284.4 457.1,285.0 457.9,285.7 458.7,286.3 459.5,287.0 460.3,287.8 461.2,288.5 462.0,289.3 462.8,290.1 463.6,291.0 464.4,291.8 465.2,292.7 466.1,293.7 466.9,294.6 467.7,295.6 468.5,296.6 469.3,297.7 470.1,298.8 470.9,299.9 471.8,301.1 472.6,302.3 473.4,303.5 474.2,304.8 475.0,306.1 475.8,307.5 476.7,308.9 477.5,310.3 478.3,311.8 479.1,313.4 479.9,315.0 480.7,316.6 481.5,318.4 482.4,320.1 483.2,321.9 484.0,323.8 484.8,325.8 485.6,327.8 486.4,329.9 487.2,332.0 488.1,334.3 488.9,336.6 489.7,339.0 490.5,341.5 491.3,344.0 492.1,346.7 493.0,349.5 493.8,352.4 494.6,355.4 495.4,358.6 496.2,361.9 497.0,365.3 497.8,368.9 498.7,372.6 499.5,376.5 500.3,380.7 501.1,385.0 501.9,389.6 502.7,394.4 503.6,399.5 504.4,404.9 505.2,410.6 506.0,416.8 506.8,423.3 507.6,430.4 508.4,438.0 509.3,446.3 510.1,455.3 510.9,465.2 511.7,476.1 512.5,488.3 513.3,502.0 514.2,517.5 515.0,536.6 515.8,555.7 516.6,574.8 517.4,593.8 518.2,582.8 519.0,571.7 519.9,560.7 520.7,549.6 521.5,529.9 522.3,512.3 523.1,496.8 523.9,483.0 524.8,470.7 525.6,459.7 526.4,449.6 527.2,440.4 528.0,431.9 528.8,424.0 529.6,416.7 530.5,409.9 531.3,403.4 532.1,397.4 532.9,391.7 533.7,386.3 534.5,381.2 535.4,376.3 536.2,371.7 537.0,367.2 537.8,363.0 538.6,358.9 539.4,355.0 540.2,351.3 541.1,347.7 541.9,344.3 542.7,340.9 543.5,337.7 544.3,334.6 545.1,331.6 545.9,328.8 546.8,326.0 547.6,323.3 548.4,320.7 549.2,318.1 550.0,315.7 550.8,313.3 551.7,311.0 552.5,308.8 553.3,306.6 554.1,304.5 554.9,302.5 555.7,300.5 556.5,298.6 557.4,296.7 558.2,294.9 559.0,293.2 559.8,291.5 560.6,289.8 561.4,288.2 562.3,286.7 563.1,285.2 563.9,283.7 564.7,282.3 565.5,280.9 566.3,279.6 567.1,278.3 568.0,277.0 568.8,275.8 569.6,274.6 570.4,273.5 571.2,272.4 572.0,271.4 572.9,270.3 573.7,269.3 574.5,268.4 575.3,267.5 576.1,266.6 576.9,265.7 577.7,264.9 578.6,264.1 579.4,263.3 580.2,262.6 581.0,261.9 581.8,261.3 582.6,260.6 583.5,260.0 584.3,259.5 585.1,258.9 585.9,258.4 586.7,257.9 587.5,257.5 588.3,257.1 589.2,256.7 590.0,256.3 590.8,256.0 591.6,255.7 592.4,255.4 593.2,255.1 594.0,254.9 594.9,254.7 595.7,254.6 596.5,254.4 597.3,254.3 598.1,254.3 598.9,254.2 599.8,254.2 600.6,254.2 601.4,254.2 602.2,254.3 603.0,254.4 603.8,254.5 604.6,254.7 605.5,254.9 606.3,255.1 607.1,255.3 607.9,255.6 608.7,255.9 609.5,256.2 610.4,256.6 611.2,257.0 612.0,257.4 612.8,257.8 613.6,258.3 614.4,258.8 615.2,259.4 616.1,259.9 616.9,260.5 617.7,261.2 618.5,261.9 619.3,262.6 620.1,263.3 621.0,264.1 621.8,264.9 622.6,265.7 623.4,266.6 624.2,267.5 625.0,268.4 625.8,269.4 626.7,270.4 627.5,271.5 628.3,272.6 629.1,273.7 629.9,274.9 630.7,276.1 631.6,277.3 632.4,278.6 633.2,279.9 634.0,281.3 634.8,282.7 635.6,284.2 636.4,285.7 637.3,287.2 638.1,288.8 638.9,290.4 639.7,292.1 640.5,293.9 641.3,295.6 642.2,297.5 643.0,299.4 643.8,301.3 644.6,303.3 645.4,305.4 646.2,307.5 647.0,309.6 647.9,311.9 648.7,314.2 649.5,316.5 650.3,318.9 651.1,321.4 651.9,324.0 652.8,326.6 653.6,329.3 654.4,332.1 655.2,334.9 656.0,337.9 656.8,340.9 657.6,344.0 658.5,347.2 659.3,350.5 660.1,353.9 660.9,357.4 661.7,361.0 662.5,364.7 663.3,368.5 664.2,372.4 665.0,376.4 665.8,380.6 666.6,384.9 667.4,389.4 668.2,394.0 669.1,398.7 669.9,403.7 670.7,408.7 671.5,414.0 672.3,419.5 673.1,425.1 673.9,431.0 674.8,437.1 675.6,443.5 676.4,450.1 677.2,457.0 678.0,464.2 678.8,471.7 679.7,479.6 680.5,487.8 681.3,496.5 682.1,505.6 682.9,515.2 683.7,525.4 684.5,536.1 685.4,547.6 686.2,559.8 687.0,572.8 687.8,586.8 688.6,602.0 689.4,618.4 690.3,636.3 691.1,655.9 691.9,677.4 692.7,701.2 693.5,727.3 694.3,755.2 695.1,774.5 696.0,793.8 696.8,813.1 697.6,832.4 698.4,827.7 699.2,823.1 700.0,818.4 700.9,832.4 701.7,832.4 702.5,832.4 703.3,798.3 704.1,751.5 704.9,715.2 705.7,685.2 706.6,659.5 707.4,636.9 708.2,616.7 709.0,598.4 709.8,581.7 710.6,566.3 711.5,552.0 712.3,538.6 713.1,526.1 713.9,514.4 714.7,503.2 715.5,492.7 716.3,482.7 717.2,473.2 718.0,464.1 718.8,455.4 719.6,447.0 720.4,439.0 721.2,431.3 722.0,423.9 722.9,416.8 723.7,409.9 724.5,403.3 725.3,396.9 726.1,390.7 726.9,384.7 727.8,378.8 728.6,373.2 729.4,367.7 730.2,362.4 731.0,357.2 731.8,352.2 732.6,347.3 733.5,342.5 734.3,337.9 735.1,333.4 735.9,329.0 736.7,324.7 737.5,320.5 738.4,316.5 739.2,312.5 740.0,308.6 740.8,304.8 741.6,301.1 742.4,297.5 743.2,294.0 744.1,290.6 744.9,287.2 745.7,283.9 746.5,280.7 747.3,277.6 748.1,274.5 749.0,271.5 749.8,268.6 750.6,265.8 751.4,263.0 752.2,260.2 753.0,257.6 753.8,254.9 754.7,252.4 755.5,249.9 756.3,247.5 757.1,245.1 757.9,242.7 758.7,240.5 759.6,238.2 760.4,236.1 761.2,233.9 762.0,231.9 762.8,229.8 763.6,227.9 764.4,225.9 765.3,224.1 766.1,222.2 766.9,220.4 767.7,218.7 768.5,217.0 769.3,215.4 770.2,213.7 771.0,212.2 771.8,210.7 772.6,209.2 773.4,207.7 774.2,206.3 775.0,205.0 775.9,203.7 776.7,202.4 777.5,201.2 778.3,200.0 779.1,198.8 779.9,197.7 780.7,196.7 781.6,195.6 782.4,194.7 783.2,193.7 784.0,192.8 784.8,191.9 785.6,191.1 786.5,190.3 787.3,189.6 788.1,188.9 788.9,188.2 789.7,187.6 790.5,187.0 791.3,186.5 792.2,186.0 793.0,185.5 793.8,185.1 794.6,184.7 795.4,184.4 796.2,184.1 797.1,183.9 797.9,183.7 798.7,183.5 799.5,183.4 800.3,183.3 801.1,183.3 801.9,183.4 802.8,183.4 803.6,183.5 804.4,183.7 805.2,183.9 806.0,184.2 806.8,184.5 807.7,184.8 808.5,185.2 809.3,185.7 810.1,186.2 810.9,186.8 811.7,187.4 812.5,188.1 813.4,188.9 814.2,189.7 815.0,190.6 815.8,191.6 816.6,192.6 817.4,193.8 818.3,195.0 819.1,196.3 819.9,197.6 820.7,199.1 821.5,200.7 822.3,202.3 823.1,204.1 824.0,206.0 824.8,208.0 825.6,210.2 826.4,212.4 827.2,214.8 828.0,217.4 828.9,220.1 829.7,223.0 830.5,226.1 831.3,229.4 832.1,232.9 832.9,236.7 833.7,240.7 834.6,245.0 835.4,249.6 836.2,254.6 837.0,260.0 837.8,265.8 838.6,272.0 839.4,278.9 840.3,286.4 841.1,294.6 841.9,303.7 842.7,313.8 843.5,325.1 844.3,337.8 845.2,352.2 846.0,368.4 846.8,386.3 847.6,392.5 848.4,397.1 849.2,401.8 850.0,406.5 850.4,408.4 850.9,397.3 851.7,378.8 852.5,360.4 853.3,342.0 854.1,325.2 854.9,311.3 855.8,298.7 856.6,287.3 857.4,276.8 858.2,267.1 859.0,258.2 859.8,249.9 860.6,242.1 861.5,234.8 862.3,227.9 863.1,221.4 863.9,215.2 864.7,209.4 865.5,203.8 866.4,198.5 867.2,193.3 868.0,188.5 868.8,183.8 869.6,179.2 870.4,174.9 871.2,170.7 872.1,166.7 872.9,162.7 873.7,159.0 874.5,155.3 875.3,151.8 876.1,148.4 877.0,145.0 877.8,141.8 878.6,138.7 879.4,135.6 880.2,132.7 881.0,129.8 881.8,127.0 882.7,124.3 883.5,121.6 884.3,119.1 885.1,116.5 885.9,114.1 886.7,111.7 887.6,109.4 888.4,107.1 889.2,104.9 890.0,102.8 890.8,100.6 891.6,98.6 892.4,96.6 893.3,94.6 894.1,92.7 894.9,90.9 895.7,89.1 896.5,87.3 897.3,85.6 898.1,83.9 899.0,82.2 899.8,80.6 900.6,79.1 901.4,77.5 902.2,76.0 903.0,74.6 903.9,73.2 904.7,71.8 905.5,70.4 906.3,69.1 907.1,67.9 907.9,66.6 908.7,65.4 909.6,64.2 910.4,63.1 911.2,62.0 912.0,60.9 912.8,59.8 913.6,58.8 914.5,57.8 915.3,56.8 916.1,55.9 916.9,55.0 917.7,54.1 918.5,53.2 919.3,52.4 920.2,51.6 921.0,50.9 921.8,50.1 922.6,49.4 923.4,48.7 924.2,48.0 925.1,47.4 925.9,46.8 926.7,46.2 927.5,45.6 928.3,45.1 929.1,44.6 929.9,44.1 930.8,43.6 931.6,43.2 932.4,42.8 933.2,42.4 934.0,42.1 934.8,41.7 935.7,41.4 936.5,41.1 937.3,40.8 938.1,40.6 938.9,40.4 939.7,40.2 940.5,40.0 941.4,39.9 942.2,39.8 943.0,39.7 943.8,39.6 944.6,39.5 945.4,39.5 946.3,39.5 947.1,39.5 947.9,39.6 948.7,39.6 949.5,39.7 950.3,39.8 951.1,40.0 952.0,40.1 952.8,40.3 953.6,40.5 954.4,40.8 955.2,41.0 956.0,41.3 956.8,41.6 957.7,41.9 958.5,42.3 959.3,42.7 960.1,43.1 960.9,43.5 961.7,43.9 962.6,44.4 963.4,44.9 964.2,45.4 965.0,46.0 965.8,46.6 966.6,47.2 967.4,47.8 968.3,48.5 969.1,49.1 969.9,49.9 970.7,50.6 971.5,51.3 972.3,52.1 973.2,53.0 974.0,53.8 974.8,54.7 975.6,55.6 976.4,56.5 977.2,57.5 978.0,58.4 978.9,59.5 979.7,60.5 980.5,61.6 981.3,62.7 982.1,63.8 982.9,65.0 983.8,66.2 984.6,67.4 985.4,68.7 986.2,70.0 987.0,71.3 987.8,72.7 988.6,74.1 989.5,75.6 990.3,77.0 991.1,78.5 991.9,80.1 992.7,81.7 993.5,83.3 994.4,85.0 995.2,86.7 996.0,88.5 996.8,90.3 997.6,92.1 998.4,94.0 999.2,96.0 1000.1,97.9 1000.9,100.0 1001.7,102.1 1002.5,104.2 1003.3,106.4 1004.1,108.7 1005.0,111.0 1005.8,113.3 1006.6,115.8 1007.4,118.3 1008.2,120.8 1009.0,123.5 1009.8,126.2 1010.7,128.9 1011.5,131.8 1012.3,134.7 1013.1,137.8 1013.9,140.9 1014.7,144.1 1015.5,147.4 1016.4,150.8 1017.2,154.3 1018.0,157.9 1018.8,161.6 1019.6,165.5 1020.4,169.5 1021.3,173.7 1022.1,178.0 1022.9,182.5 1023.7,187.1 1024.5,192.0 1025.3,197.1 1026.1,202.3 1027.0,207.9 1027.8,213.7 1028.6,219.8 1029.4,226.2 1030.2,233.0 1031.0,240.2 1031.9,247.9 1032.7,256.1 1033.5,264.9 1034.3,274.4 1035.1,284.7 1035.9,296.0 1036.7,308.3 1037.6,322.0 1038.4,337.9 1039.2,356.4 1040.0,375.0 1040.8,393.5 1041.5,408.4 1041.6,407.4 1042.5,402.7 1043.3,398.1 1044.1,393.4 1044.9,389.9 1045.7,371.7 1046.5,355.0 1047.3,340.2 1048.2,327.2 1049.0,315.6 1049.8,305.2 1050.6,295.9 1051.4,287.5 1052.2,279.9 1053.1,272.9 1053.9,266.5 1054.7,260.7 1055.5,255.2 1056.3,250.2 1057.1,245.5 1057.9,241.1 1058.8,237.1 1059.6,233.3 1060.4,229.7 1061.2,226.4 1062.0,223.2 1062.8,220.3 1063.7,217.5 1064.5,214.9 1065.3,212.5 1066.1,210.2 1066.9,208.1 1067.7,206.0 1068.5,204.1 1069.4,202.3 1070.2,200.6 1071.0,199.1 1071.8,197.6 1072.6,196.2 1073.4,194.9 1074.2,193.7 1075.1,192.5 1075.9,191.5 1076.7,190.5 1077.5,189.6 1078.3,188.7 1079.1,188.0 1080.0,187.3 1080.8,186.6 1081.6,186.0 1082.4,185.5 1083.2,185.0 1084.0,184.6 1084.8,184.3 1085.7,183.9 1086.5,183.7 1087.3,183.5 1088.1,183.3 1088.9,183.2 1089.7,183.1 1090.6,183.1 1091.4,183.1 1092.2,183.1 1093.0,183.2 1093.8,183.3 1094.6,183.5 1095.4,183.8 1096.3,184.0 1097.1,184.3 1097.9,184.7 1098.7,185.1 1099.5,185.5 1100.3,186.0 1101.2,186.5 1102.0,187.1 1102.8,187.7 1103.6,188.3 1104.4,189.0 1105.2,189.7 1106.0,190.5 1106.9,191.3 1107.7,192.2 1108.5,193.1 1109.3,194.0 1110.1,194.9 1110.9,195.9 1111.8,197.0 1112.6,198.1 1113.4,199.2 1114.2,200.4 1115.0,201.6 1115.8,202.8 1116.6,204.1 1117.5,205.4 1118.3,206.8 1119.1,208.2 1119.9,209.7 1120.7,211.2 1121.5,212.7 1122.3,214.3 1123.2,215.9 1124.0,217.6 1124.8,219.3 1125.6,221.0 1126.4,222.8 1127.2,224.7 1128.1,226.6 1128.9,228.5 1129.7,230.5 1130.5,232.6 1131.3,234.7 1132.1,236.8 1132.9,239.0 1133.8,241.2 1134.6,243.5 1135.4,245.9 1136.2,248.3 1137.0,250.7 1137.8,253.2 1138.7,255.8 1139.5,258.4 1140.3,261.1 1141.1,263.9 1141.9,266.7 1142.7,269.6 1143.5,272.5 1144.4,275.5 1145.2,278.6 1146.0,281.8 1146.8,285.0 1147.6,288.3 1148.4,291.7 1149.3,295.1 1150.1,298.7 1150.9,302.3 1151.7,306.0 1152.5,309.8 1153.3,313.7 1154.1,317.7 1155.0,321.8 1155.8,326.0 1156.6,330.3 1157.4,334.8 1158.2,339.3 1159.0,344.0 1159.9,348.8 1160.7,353.7 1161.5,358.7 1162.3,364.0 1163.1,369.3 1163.9,374.8 1164.7,380.5 1165.6,386.4 1166.4,392.4 1167.2,398.7 1168.0,405.2 1168.8,411.8 1169.6,418.8 1170.5,425.9 1171.3,433.4 1172.1,441.1 1172.9,449.2 1173.7,457.6 1174.5,466.3 1175.3,475.5 1176.2,485.0 1177.0,495.1 1177.8,505.7 1178.6,516.8 1179.4,528.6 1180.2,541.1 1181.1,554.5 1181.9,568.7 1182.7,584.0 1183.5,600.6 1184.3,618.5 1185.1,638.2 1185.9,660.0 1186.8,684.4 1187.6,712.1 1188.4,743.8 1189.2,780.6 1190.0,822.1 1190.8,831.3 1191.6,817.2 1192.5,821.9 1193.3,826.6 1194.1,831.3 1194.9,811.5 1195.7,791.7 1196.5,771.9 1197.4,752.1 1198.2,726.9 1199.0,702.8 1199.8,680.2 1200.6,659.3 1201.4,640.1 1202.2,622.5 1203.1,606.1 1203.9,591.0 1204.7,577.0 1205.5,563.8 1206.3,551.5 1207.1,540.0 1208.0,529.1 1208.8,518.9 1209.6,509.2 1210.4,499.9 1211.2,491.2 1212.0,482.8 1212.8,474.9 1213.7,467.2 1214.5,460.0 1215.3,453.0 1216.1,446.3 1216.9,439.9 1217.7,433.7 1218.6,427.7 1219.4,422.0 1220.2,416.5 1221.0,411.1 1221.8,406.0 1222.6,401.0 1223.4,396.2 1224.3,391.6 1225.1,387.1 1225.9,382.7 1226.7,378.5 1227.5,374.4 1228.3,370.4 1229.2,366.6 1230.0,362.8 1230.8,359.2 1231.6,355.7 1232.4,352.3 1233.2,349.0 1234.0,345.7 1234.9,342.6 1235.7,339.5 1236.5,336.6 1237.3,333.7 1238.1,330.9 1238.9,328.2 1239.8,325.5 1240.6,322.9 1241.4,320.4 1242.2,318.0 1243.0,315.6 1243.8,313.3 1244.6,311.0 1245.5,308.9 1246.3,306.7 1247.1,304.7 1247.9,302.6 1248.7,300.7 1249.5,298.8 1250.3,296.9 1251.2,295.1 1252.0,293.4 1252.8,291.7 1253.6,290.0 1254.4,288.4 1255.2,286.9 1256.1,285.4 1256.9,283.9 1257.7,282.5 1258.5,281.1 1259.3,279.8 1260.1,278.5 1260.9,277.2 1261.8,276.0 1262.6,274.8 1263.4,273.7 1264.2,272.6 1265.0,271.5 1265.8,270.5 1266.7,269.5 1267.5,268.6 1268.3,267.6 1269.1,266.8 1269.9,265.9 1270.7,265.1 1271.5,264.3 1272.4,263.6 1273.2,262.9 1274.0,262.2 1274.8,261.6 1275.6,261.0 1276.4,260.4 1277.3,259.8 1278.1,259.3 1278.9,258.8 1279.7,258.4 1280.5,258.0 1281.3,257.6 1282.1,257.2 1283.0,256.9 1283.8,256.6 1284.6,256.3 1285.4,256.0 1286.2,255.8 1287.0,255.6 1287.9,255.5 1288.7,255.4 1289.5,255.3 1290.3,255.2 1291.1,255.2 1291.9,255.1 1292.7,255.2 1293.6,255.2 1294.4,255.3 1295.2,255.4 1296.0,255.5 1296.8,255.7 1297.6,255.9 1298.5,256.1 1299.3,256.3 1300.1,256.6 1300.9,256.9 1301.7,257.2 1302.5,257.6 1303.3,258.0 1304.2,258.4 1305.0,258.9 1305.8,259.3 1306.6,259.8 1307.4,260.4 1308.2,260.9 1309.0,261.5 1309.9,262.2 1310.7,262.8 1311.5,263.5 1312.3,264.3 1313.1,265.0 1313.9,265.8 1314.8,266.6 1315.6,267.5 1316.4,268.4 1317.2,269.3 1318.0,270.3 1318.8,271.3 1319.6,272.3 1320.5,273.4 1321.3,274.5 1322.1,275.6 1322.9,276.8 1323.7,278.0 1324.5,279.3 1325.4,280.6 1326.2,281.9 1327.0,283.3 1327.8,284.7 1328.6,286.2 1329.4,287.7 1330.2,289.3 1331.1,290.9 1331.9,292.6 1332.7,294.3 1333.5,296.1 1334.3,297.9 1335.1,299.8 1336.0,301.8 1336.8,303.8 1337.6,305.8 1338.4,308.0 1339.2,310.2 1340.0,312.4 1340.8,314.8 1341.7,317.2 1342.5,319.7 1343.3,322.3 1344.1,324.9 1344.9,327.7 1345.7,330.5 1346.6,333.5 1347.4,336.6 1348.2,339.7 1349.0,343.0 1349.8,346.5 1350.6,350.0 1351.4,353.7 1352.3,357.6 1353.1,361.6 1353.9,365.8 1354.7,370.2 1355.5,374.8 1356.3,379.7 1357.2,384.8 1358.0,390.2 1358.8,395.9 1359.6,401.9 1360.4,408.3 1361.2,415.1 1362.0,422.5 1362.9,430.4 1363.7,438.9 1364.5,448.2 1365.3,458.4 1366.1,469.8 1366.9,482.5 1367.7,496.8 1368.6,515.1 1369.4,540.1 1370.2,565.2 1371.0,590.2 1371.7,610.2 1371.8,608.6 1372.6,600.8 1373.5,592.9 1374.3,585.0 1375.1,572.6 1375.9,546.9 1376.7,525.8 1377.5,508.0 1378.3,492.8 1379.2,479.6 1380.0,467.9 1380.8,457.4 1381.6,447.9 1382.4,439.3 1383.2,431.3 1384.1,424.0 1384.9,417.3 1385.7,411.0 1386.5,405.0 1387.3,399.5 1388.1,394.3 1388.9,389.4 1389.8,384.7 1390.6,380.3 1391.4,376.1 1392.2,372.1 1393.0,368.3 1393.8,364.7 1394.7,361.2 1395.5,357.8 1396.3,354.7 1397.1,351.6 1397.9,348.7 1398.7,345.8 1399.5,343.1 1400.4,340.5 1401.2,338.0 1402.0,335.5 1402.8,333.2 1403.6,330.9 1404.4,328.8 1405.3,326.6 1406.1,324.6 1406.9,322.6 1407.7,320.7 1408.5,318.9 1409.3,317.1 1410.1,315.4 1411.0,313.7 1411.8,312.1 1412.6,310.5 1413.4,309.0 1414.2,307.5 1415.0,306.1 1415.9,304.7 1416.7,303.4 1417.5,302.1 1418.3,300.8 1419.1,299.6 1419.9,298.4 1420.7,297.3 1421.6,296.2 1422.4,295.1 1423.2,294.1 1424.0,293.1 1424.8,292.1 1425.6,291.2 1426.4,290.3 1427.3,289.4 1428.1,288.5 1428.9,287.7 1429.7,286.9 1430.5,286.1 1431.3,285.4 1432.2,284.7 1433.0,284.0 1433.8,283.3 1434.6,282.7 1435.4,282.0 1436.2,281.4 1437.0,280.9 1437.9,280.3 1438.7,279.8 1439.5,279.3 1440.3,278.8 1441.1,278.3 1441.9,277.9 1442.8,277.4 1443.6,277.0 1444.4,276.6 1445.2,276.2 1446.0,275.9 1446.8,275.6 1447.6,275.2 1448.5,274.9 1449.3,274.7 1450.1,274.4 1450.9,274.1 1451.7,273.9 1452.5,273.7 1453.4,273.5 1454.2,273.3 1455.0,273.1 1455.8,273.0 1456.6,272.8 1457.4,272.7 1458.2,272.6 1459.1,272.5 1459.9,272.4 1460.7,272.3 1461.5,272.3 1462.3,272.3 1463.1,272.2 1464.0,272.2 1464.8,272.2 1465.6,272.2 1466.4,272.3 1467.2,272.3 1468.0,272.4 1468.8,272.4 1469.7,272.5 1470.5,272.6 1471.3,272.7 1472.1,272.8 1472.9,273.0 1473.7,273.1 1474.6,273.3 1475.4,273.4 1476.2,273.6 1477.0,273.8 1477.8,274.0 1478.6,274.2 1479.4,274.5 1480.3,274.7 1481.1,274.9 1481.9,275.2 1482.7,275.5 1483.5,275.8 1484.3,276.1 1485.1,276.4 1486.0,276.7 1486.8,277.0 1487.6,277.3 1488.4,277.7 1489.2,278.0 1490.0,278.4 1490.9,278.8 1491.7,279.2 1492.5,279.6 1493.3,280.0 1494.1,280.4 1494.9,280.9 1495.7,281.3 1496.6,281.8 1497.4,282.2 1498.2,282.7 1499.0,283.2 1499.8,283.7 1500.6,284.2 1501.5,284.7 1502.3,285.2 1503.1,285.7 1503.9,286.3 1504.7,286.8 1505.5,287.4 1506.3,288.0 1507.2,288.5 1508.0,289.1 1508.8,289.7 1509.6,290.3 1510.4,291.0 1511.2,291.6 1512.1,292.2 1512.9,292.9 1513.7,293.5 1514.5,294.2 1515.3,294.9 1516.1,295.5 1516.9,296.2 1517.8,296.9 1518.6,297.6 1519.4,298.4 1520.2,299.1 1521.0,299.8 1521.8,300.6 1522.7,301.3 1523.5,302.1 1524.3,302.9 1525.1,303.7 1525.9,304.5 1526.7,305.3 1527.5,306.1 1528.4,306.9 1529.2,307.7 1530.0,308.6 1530.8,309.4 1531.6,310.3 1532.4,311.1 1533.3,312.0 1534.1,312.9 1534.9,313.8 1535.7,314.7 1536.5,315.6 1537.3,316.5 1538.1,317.4 1539.0,318.4 1539.8,319.3 1540.6,320.3 1541.4,321.3 1542.2,322.2 1543.0,323.2 1543.8,324.2 1544.7,325.2 1545.5,326.2 1546.3,327.2 1547.1,328.3 1547.9,329.3 1548.7,330.4 1549.6,331.4 1550.4,332.5 1551.2,333.6 1552.0,334.7 1552.8,335.7 1553.6,336.9 1554.4,338.0 1555.3,339.1 1556.1,340.2 1556.9,341.4 1557.7,342.5 1558.5,343.7 1559.3,344.9 1560.2,346.0 1561.0,347.2 1561.8,348.4 1562.6,349.6 1563.4,350.9 1564.2,352.1 1565.0,353.3 1565.9,354.6 1566.7,355.8 1567.5,357.1 1568.3,358.4 1569.1,359.7 1569.9,361.0 1570.8,362.3 1571.6,363.6 1572.4,364.9 1573.2,366.3 1574.0,367.6 1574.8,369.0 1575.6,370.3 1576.5,371.7 1577.3,373.1 1578.1,374.5 1578.9,375.9 1579.7,377.3 1580.5,378.7 1581.4,380.2 1582.2,381.6 1583.0,383.1 1583.8,384.5 1584.6,386.0 1585.4,387.5 1586.2,389.0 1587.1,390.5 1587.9,392.0 1588.7,393.5 1589.5,395.1 1590.3,396.6 1591.1,398.2 1592.0,399.7 1592.8,401.3 1593.6,402.9 1594.4,404.5 1595.2,406.1 1596.0,407.7 1596.8,409.3 1597.7,410.9 1598.5,412.5 1599.3,414.2 1600.1,415.8 1600.9,417.4 1601.7,419.1 1602.5,420.8 1603.4,422.4 1604.2,424.1 1605.0,425.8 1605.8,427.5 1606.6,429.2 1607.4,430.9 1608.3,432.6 1609.1,434.3 1609.9,436.0 1610.7,437.7 1611.5,439.4 1612.3,441.1 1613.1,442.8 1614.0,444.5 1614.8,446.2 1615.6,447.9 1616.4,449.6 1617.2,451.3 1618.0,453.0 1618.9,454.6 1619.7,456.3 1620.5,458.0 1621.3,459.7 1622.1,461.3 1622.9,462.9 1623.7,464.6 1624.6,466.2 1625.4,467.8 1626.2,469.4 1627.0,470.9 1627.8,472.5 1628.6,474.0 1629.5,475.5 1630.3,477.0 1631.1,478.4 1631.9,479.9 1632.7,481.3 1633.5,482.6 1634.3,484.0 1635.2,485.3 1636.0,486.6 1636.8,487.8 1637.6,489.1 1638.4,490.3 1639.2,491.4 1640.1,492.5 1640.9,493.6 1641.7,494.7 1642.5,495.7 1643.3,496.6 1644.1,497.6 1644.9,498.5 1645.8,499.3 1646.6,500.1 1647.4,500.9 1648.2,501.7 1649.0,502.4 1649.8,503.0 1650.7,503.7 1651.5,504.3 1652.3,504.8 1653.1,505.3 1653.9,505.8 1654.7,506.3 1655.5,506.7 1656.4,507.1 1657.2,507.5 1658.0,507.9 1658.8,508.2 1659.6,508.5 1660.4,508.7 1661.2,509.0 1662.1,509.2 1662.9,509.4 1663.7,509.6 1664.5,509.8 1665.3,509.9 1666.1,510.1 1667.0,510.2 1667.8,510.3 1668.6,510.4 1669.4,510.5 1670.2,510.6 1671.0,510.6 1671.8,510.7 1672.7,510.7 1673.5,510.8 1674.3,510.8 1675.1,510.8 1675.9,510.8 1676.7,510.8 1677.6,510.8 1678.4,510.8 1679.2,510.8 1680.0,510.8"/>
<polyline stroke="#40729e" points="212.5,516.7 213.3,516.7 214.1,516.6 214.9,516.4 215.8,516.2 216.6,515.8 217.4,515.4 218.2,514.9 219.0,514.3 219.8,513.6 220.7,512.8 221.5,512.0 222.3,511.0 223.1,510.0 223.9,508.9 224.7,507.8 225.5,506.6 226.4,505.3 227.2,504.0 228.0,502.6 228.8,501.1 229.6,499.6 230.4,498.1 231.3,496.4 232.1,494.8 232.9,493.1 233.7,491.4 234.5,489.6 235.3,487.8 236.1,485.9 237.0,484.1 237.8,482.2 238.6,480.2 239.4,478.3 240.2,476.3 241.0,474.3 241.8,472.3 242.7,470.3 243.5,468.3 244.3,466.2 245.1,464.2 245.9,462.1 246.7,460.0 247.6,458.0 248.4,455.9 249.2,453.8 250.0,451.7 250.8,449.6 251.6,447.5 252.4,445.4 253.3,443.3 254.1,441.2 254.9,439.2 255.7,437.1 256.5,435.0 257.3,432.9 258.2,430.9 259.0,428.8 259.8,426.7 260.6,424.7 261.4,422.7 262.2,420.6 263.0,418.6 263.9,416.6 264.7,414.6 265.5,412.6 266.3,410.6 267.1,408.7 267.9,406.7 268.8,404.7 269.6,402.8 270.4,400.9 271.2,399.0 272.0,397.1 272.8,395.2 273.6,393.3 274.5,391.4 275.3,389.5 276.1,387.7 276.9,385.8 277.7,384.0 278.5,382.2 279.4,380.4 280.2,378.6 281.0,376.8 281.8,375.1 282.6,373.3 283.4,371.6 284.2,369.8 285.1,368.1 285.9,366.4 286.7,364.7 287.5,363.0 288.3,361.4 289.1,359.7 290.0,358.0 290.8,356.4 291.6,354.8 292.4,353.2 293.2,351.6 294.0,350.0 294.8,348.4 295.7,346.8 296.5,345.3 297.3,343.7 298.1,342.2 298.9,340.6 299.7,339.1 300.5,337.6 301.4,336.1 302.2,334.6 303.0,333.2 303.8,331.7 304.6,330.3 305.4,328.8 306.3,327.4 307.1,326.0 307.9,324.6 308.7,323.2 309.5,321.8 310.3,320.4 311.1,319.0 312.0,317.7 312.8,316.3 313.6,315.0 314.4,313.7 315.2,312.4 316.0,311.1 316.9,309.8 317.7,308.5 318.5,307.2 319.3,305.9 320.1,304.7 320.9,303.4 321.7,302.2 322.6,301.0 323.4,299.7 324.2,298.5 325.0,297.3 325.8,296.1 326.6,294.9 327.5,293.8 328.3,292.6 329.1,291.5 329.9,290.3 330.7,289.2 331.5,288.0 332.3,286.9 333.2,285.8 334.0,284.7 334.8,283.6 335.6,282.5 336.4,281.5 337.2,280.4 338.1,279.3 338.9,278.3 339.7,277.3 340.5,276.2 341.3,275.2 342.1,274.2 342.9,273.2 343.8,272.2 344.6,271.2 345.4,270.2 346.2,269.2 347.0,268.3 347.8,267.3 348.7,266.4 349.5,265.4 350.3,264.5 351.1,263.6 351.9,262.7 352.7,261.8 353.5,260.9 354.4,260.0 355.2,259.1 356.0,258.2 356.8,257.4 357.6,256.5 358.4,255.7 359.2,254.9 360.1,254.0 360.9,253.2 361.7,252.4 362.5,251.6 363.3,250.8 364.1,250.0 365.0,249.2 365.8,248.5 366.6,247.7 367.4,246.9 368.2,246.2 369.0,245.5 369.8,244.7 370.7,244.0 371.5,243.3 372.3,242.6 373.1,241.9 373.9,241.2 374.7,240.5 375.6,239.9 376.4,239.2 377.2,238.6 378.0,237.9 378.8,237.3 379.6,236.7 380.4,236.0 381.3,235.4 382.1,234.8 382.9,234.2 383.7,233.6 384.5,233.1 385.3,232.5 386.2,231.9 387.0,231.4 387.8,230.9 388.6,230.3 389.4,229.8 390.2,229.3 391.0,228.8 391.9,228.3 392.7,227.8 393.5,227.3 394.3,226.9 395.1,226.4 395.9,225.9 396.8,225.5 397.6,225.1 398.4,224.6 399.2,224.2 400.0,223.8 400.8,223.4 401.6,223.0 402.5,222.7 403.3,222.3 404.1,221.9 404.9,221.6 405.7,221.3 406.5,220.9 407.4,220.6 408.2,220.3 409.0,220.0 409.8,219.7 410.6,219.5 411.4,219.2 412.2,218.9 413.1,218.7 413.9,218.4 414.7,218.2 415.5,218.0 416.3,217.8 417.1,217.6 418.0,217.4 418.8,217.3 419.6,217.1 420.4,216.9 421.2,216.8 422.0,216.7 422.8,216.6 423.7,216.5 424.5,216.4 425.3,216.3 426.1,216.2 426.9,216.2 427.7,216.1 428.5,216.1 429.4,216.1 430.2,216.1 431.0,216.1 431.8,216.1 432.6,216.1 433.4,216.1 434.3,216.2 435.1,216.3 435.9,216.3 436.7,216.4 437.5,216.5 438.3,216.6 439.1,216.7 440.0,216.9 440.8,217.0 441.6,217.2 442.4,217.4 443.2,217.6 444.0,217.8 444.9,218.0 445.7,218.2 446.5,218.5 447.3,218.8 448.1,219.0 448.9,219.3 449.7,219.7 450.6,220.0 451.4,220.3 452.2,220.7 453.0,221.1 453.8,221.5 454.6,221.9 455.5,222.3 456.3,222.8 457.1,223.2 457.9,223.7 458.7,224.2 459.5,224.8 460.3,225.3 461.2,225.9 462.0,226.5 462.8,227.1 463.6,227.7 464.4,228.4 465.2,229.1 466.1,229.8 466.9,230.5 467.7,231.3 468.5,232.0 469.3,232.9 470.1,233.7 470.9,234.5 471.8,235.4 472.6,236.3 473.4,237.3 474.2,238.3 475.0,239.3 475.8,240.3 476.7,241.4 477.5,242.5 478.3,243.6 479.1,244.8 479.9,246.0 480.7,247.2 481.5,248.5 482.4,249.8 483.2,251.2 484.0,252.6 484.8,254.1 485.6,255.5 486.4,257.1 487.2,258.7 488.1,260.3 488.9,262.0 489.7,263.8 490.5,265.6 491.3,267.4 492.1,269.4 493.0,271.3 493.8,273.4 494.6,275.5 495.4,277.7 496.2,280.0 497.0,282.4 497.8,284.8 498.7,287.3 499.5,290.0 500.3,292.7 501.1,295.5 501.9,298.5 502.7,301.5 503.6,304.7 504.4,308.0 505.2,311.5 506.0,315.1 506.8,318.9 507.6,322.9 508.4,327.1 509.3,331.4 510.1,336.1 510.9,340.9 511.7,346.1 512.5,351.6 513.3,357.4 514.2,363.6 515.0,370.3 515.8,377.4 516.6,385.2 517.4,393.6 518.2,402.9 519.0,413.2 519.9,424.6 520.7,437.6 521.5,452.5 522.3,470.1 523.1,491.5 523.9,518.7 524.8,547.7 525.6,564.2 526.4,580.6 527.2,597.1 527.7,606.9 528.0,593.0 528.8,558.0 529.6,523.1 530.5,488.2 531.3,459.5 532.1,443.2 532.9,429.2 533.7,416.8 534.5,405.9 535.4,396.0 536.2,387.0 537.0,378.8 537.8,371.1 538.6,364.1 539.4,357.5 540.2,351.3 541.1,345.6 541.9,340.1 542.7,335.0 543.5,330.1 544.3,325.5 545.1,321.0 545.9,316.8 546.8,312.8 547.6,309.0 548.4,305.4 549.2,301.8 550.0,298.5 550.8,295.2 551.7,292.1 552.5,289.1 553.3,286.3 554.1,283.5 554.9,280.8 555.7,278.3 556.5,275.8 557.4,273.4 558.2,271.1 559.0,268.8 559.8,266.7 560.6,264.6 561.4,262.6 562.3,260.6 563.1,258.7 563.9,256.9 564.7,255.2 565.5,253.5 566.3,251.8 567.1,250.2 568.0,248.7 568.8,247.2 569.6,245.8 570.4,244.4 571.2,243.0 572.0,241.7 572.9,240.5 573.7,239.3 574.5,238.1 575.3,237.0 576.1,235.9 576.9,234.8 577.7,233.8 578.6,232.9 579.4,231.9 580.2,231.0 581.0,230.2 581.8,229.4 582.6,228.6 583.5,227.8 584.3,227.1 585.1,226.4 585.9,225.8 586.7,225.1 587.5,224.5 588.3,224.0 589.2,223.4 590.0,222.9 590.8,222.5 591.6,222.0 592.4,221.6 593.2,221.3 594.0,220.9 594.9,220.6 595.7,220.3 596.5,220.0 597.3,219.8 598.1,219.6 598.9,219.4 599.8,219.2 600.6,219.1 601.4,219.0 602.2,219.0 603.0,218.9 603.8,218.9 604.6,218.9 605.5,218.9 606.3,219.0 607.1,219.1 607.9,219.2 608.7,219.4 609.5,219.6 610.4,219.8 611.2,220.0 612.0,220.3 612.8,220.6 613.6,220.9 614.4,221.3 615.2,221.7 616.1,222.1 616.9,222.5 617.7,223.0 618.5,223.5 619.3,224.1 620.1,224.7 621.0,225.3 621.8,225.9 622.6,226.6 623.4,227.3 624.2,228.0 625.0,228.8 625.8,229.6 626.7,230.5 627.5,231.3 628.3,232.3 629.1,233.2 629.9,234.2 630.7,235.3 631.6,236.3 632.4,237.4 633.2,238.6 634.0,239.8 634.8,241.0 635.6,242.3 636.4,243.6 637.3,245.0 638.1,246.4 638.9,247.9 639.7,249.4 640.5,250.9 641.3,252.5 642.2,254.2 643.0,255.9 643.8,257.6 644.6,259.5 645.4,261.3 646.2,263.3 647.0,265.3 647.9,267.3 648.7,269.4 649.5,271.6 650.3,273.8 651.1,276.2 651.9,278.5 652.8,281.0 653.6,283.5 654.4,286.2 655.2,288.9 656.0,291.6 656.8,294.5 657.6,297.5 658.5,300.5 659.3,303.7 660.1,306.9 660.9,310.3 661.7,313.8 662.5,317.4 663.3,321.1 664.2,325.0 665.0,329.0 665.8,333.1 666.6,337.4 667.4,341.9 668.2,346.5 669.1,351.3 669.9,356.3 670.7,361.6 671.5,367.0 672.3,372.7 673.1,378.7 673.9,385.0 674.8,391.6 675.6,398.5 676.4,405.8 677.2,413.6 678.0,421.8 678.8,430.6 679.7,440.0 680.5,450.1 681.3,461.1 682.1,473.0 682.9,486.1 683.7,500.7 684.5,517.0 685.4,535.6 686.2,557.2 687.0,583.3 687.8,609.4 688.6,635.5 689.4,661.7 690.3,641.4 691.1,621.1 691.9,600.7 692.7,580.4 693.5,563.7 694.3,550.1 695.1,539.0 696.0,529.7 696.8,522.1 697.6,515.7 698.4,510.3 699.2,505.9 700.0,502.2 700.9,499.2 701.7,496.8 702.5,494.9 703.3,493.7 704.1,493.1 704.9,493.0 705.7,493.5 706.6,494.7 707.4,496.4 708.2,498.9 709.0,502.1 709.8,506.1 710.6,511.0 711.5,516.8 712.3,523.7 713.1,531.7 713.9,540.9 714.7,551.0 715.5,561.6 716.3,546.1 717.2,550.8 718.0,555.5 718.8,560.2 719.1,562.0 719.6,552.5 720.4,536.5 721.2,520.5 722.0,504.6 722.9,488.8 723.7,474.1 724.5,460.6 725.3,447.9 726.1,436.1 726.9,425.1 727.8,414.7 728.6,405.0 729.4,395.7 730.2,386.9 731.0,378.6 731.8,370.7 732.6,363.1 733.5,355.8 734.3,348.9 735.1,342.2 735.9,335.7 736.7,329.5 737.5,323.6 738.4,317.8 739.2,312.2 740.0,306.8 740.8,301.6 741.6,296.5 742.4,291.6 743.2,286.8 744.1,282.2 744.9,277.7 745.7,273.3 746.5,269.0 747.3,264.9 748.1,260.9 749.0,256.9 749.8,253.1 750.6,249.3 751.4,245.7 752.2,242.2 753.0,238.7 753.8,235.3 754.7,232.0 755.5,228.8 756.3,225.6 757.1,222.6 757.9,219.6 758.7,216.6 759.6,213.8 760.4,211.0 761.2,208.3 762.0,205.6 762.8,203.0 763.6,200.5 764.4,198.0 765.3,195.6 766.1,193.2 766.9,190.9 767.7,188.6 768.5,186.4 769.3,184.3 770.2,182.2 771.0,180.2 771.8,178.2 772.6,176.2 773.4,174.3 774.2,172.5 775.0,170.7 775.9,169.0 776.7,167.3 777.5,165.6 778.3,164.0 779.1,162.4 779.9,160.9 780.7,159.5 781.6,158.0 782.4,156.7 783.2,155.3 784.0,154.0 784.8,152.8 785.6,151.6 786.5,150.4 787.3,149.3 788.1,148.2 788.9,147.2 789.7,146.2 790.5,145.2 791.3,144.3 792.2,143.4 793.0,142.6 793.8,141.8 794.6,141.1 795.4,140.4 796.2,139.7 797.1,139.1 797.9,138.5 798.7,138.0 799.5,137.5 800.3,137.1 801.1,136.7 801.9,136.3 802.8,136.0 803.6,135.8 804.4,135.6 805.2,135.4 806.0,135.3 806.8,135.2 807.7,135.1 808.5,135.2 809.3,135.2 810.1,135.4 810.9,135.6 811.7,135.8 812.5,136.1 813.4,136.5 814.2,136.9 815.0,137.4 815.8,138.0 816.6,138.6 817.4,139.3 818.3,140.1 819.1,140.9 819.9,141.8 820.7,142.8 821.5,143.8 822.3,144.9 823.1,146.1 824.0,147.4 824.8,148.7 825.6,150.1 826.4,151.6 827.2,153.2 828.0,154.8 828.9,156.6 829.7,158.4 830.5,160.4 831.3,162.4 832.1,164.6 832.9,166.8 833.7,169.2 834.6,171.7 835.4,174.3 836.2,177.0 837.0,179.9 837.8,182.9 838.6,186.1 839.4,189.4 840.3,193.0 841.1,196.7 841.9,200.6 842.7,204.8 843.5,209.2 844.3,213.8 845.2,218.8 846.0,224.0 846.8,229.7 847.6,235.7 848.4,242.1 849.2,249.0 850.0,256.4 850.9,264.4 851.7,273.0 852.5,282.3 853.3,292.4 854.1,303.1 854.9,313.8 855.8,324.1 856.6,334.4 857.4,344.7 857.8,349.9 858.2,347.1 859.0,341.5 859.8,335.9 860.6,330.4 861.5,321.6 862.3,309.1 863.1,296.7 863.9,284.9 864.7,273.7 865.5,263.3 866.4,253.5 867.2,244.5 868.0,236.0 868.8,228.0 869.6,220.5 870.4,213.4 871.2,206.8 872.1,200.5 872.9,194.5 873.7,188.8 874.5,183.4 875.3,178.2 876.1,173.2 877.0,168.5 877.8,163.9 878.6,159.6 879.4,155.4 880.2,151.3 881.0,147.4 881.8,143.7 882.7,140.0 883.5,136.5 884.3,133.2 885.1,129.9 885.9,126.7 886.7,123.6 887.6,120.7 888.4,117.8 889.2,115.0 890.0,112.3 890.8,109.7 891.6,107.1 892.4,104.6 893.3,102.2 894.1,99.9 894.9,97.6 895.7,95.4 896.5,93.2 897.3,91.2 898.1,89.1 899.0,87.2 899.8,85.2 900.6,83.4 901.4,81.6 902.2,79.8 903.0,78.1 903.9,76.4 904.7,74.8 905.5,73.2 906.3,71.7 907.1,70.2 907.9,68.7 908.7,67.3 909.6,66.0 910.4,64.7 911.2,63.4 912.0,62.1 912.8,60.9 913.6,59.8 914.5,58.6 915.3,57.5 916.1,56.5 916.9,55.5 917.7,54.5 918.5,53.5 919.3,52.6 920.2,51.7 921.0,50.9 921.8,50.1 922.6,49.3 923.4,48.5 924.2,47.8 925.1,47.1 925.9,46.4 926.7,45.8 927.5,45.2 928.3,44.6 929.1,44.1 929.9,43.6 930.8,43.1 931.6,42.7 932.4,42.2 933.2,41.8 934.0,41.5 934.8,41.2 935.7,40.9 936.5,40.6 937.3,40.3 938.1,40.1 938.9,39.9 939.7,39.8 940.5,39.6 941.4,39.5 942.2,39.5 943.0,39.5 943.8,39.5 944.6,39.5 945.4,39.5 946.3,39.5 947.1,39.6 947.9,39.7 948.7,39.9 949.5,40.0 950.3,40.3 951.1,40.5 952.0,40.8 952.8,41.1 953.6,41.4 954.4,41.7 955.2,42.1 956.0,42.5 956.8,43.0 957.7,43.4 958.5,43.9 959.3,44.5 960.1,45.0 960.9,45.6 961.7,46.3 962.6,46.9 963.4,47.6 964.2,48.3 965.0,49.1 965.8,49.9 966.6,50.7 967.4,51.5 968.3,52.4 969.1,53.3 969.9,54.3 970.7,55.3 971.5,56.3 972.3,57.4 973.2,58.5 974.0,59.6 974.8,60.8 975.6,62.0 976.4,63.2 977.2,64.5 978.0,65.8 978.9,67.2 979.7,68.6 980.5,70.1 981.3,71.6 982.1,73.1 982.9,74.7 983.8,76.4 984.6,78.1 985.4,79.8 986.2,81.6 987.0,83.4 987.8,85.3 988.6,87.3 989.5,89.3 990.3,91.4 991.1,93.5 991.9,95.7 992.7,98.0 993.5,100.3 994.4,102.7 995.2,105.2 996.0,107.8 996.8,110.4 997.6,113.1 998.4,115.9 999.2,118.8 1000.1,121.8 1000.9,124.9 1001.7,128.1 1002.5,131.4 1003.3,134.8 1004.1,138.4 1005.0,142.0 1005.8,145.9 1006.6,149.8 1007.4,154.0 1008.2,158.3 1009.0,162.8 1009.8,167.5 1010.7,172.4 1011.5,177.5 1012.3,182.9 1013.1,188.6 1013.9,194.6 1014.7,200.9 1015.5,207.7 1016.4,214.8 1017.2,222.5 1018.0,230.7 1018.8,239.6 1019.6,249.3 1020.4,259.8 1021.3,271.4 1022.1,284.3 1022.9,298.7 1023.7,317.2 1024.5,337.9 1025.3,358.6 1026.1,379.3 1026.6,389.6 1027.0,387.2 1027.8,382.2 1028.6,377.3 1029.4,372.3 1030.2,358.8 1031.0,338.6 1031.9,320.9 1032.7,305.6 1033.5,292.2 1034.3,280.3 1035.1,269.7 1035.9,260.2 1036.7,251.6 1037.6,243.8 1038.4,236.6 1039.2,229.9 1040.0,223.8 1040.8,218.1 1041.6,212.8 1042.5,207.9 1043.3,203.3 1044.1,198.9 1044.9,194.9 1045.7,191.0 1046.5,187.4 1047.3,184.0 1048.2,180.7 1049.0,177.7 1049.8,174.8 1050.6,172.0 1051.4,169.4 1052.2,166.9 1053.1,164.6 1053.9,162.4 1054.7,160.3 1055.5,158.3 1056.3,156.4 1057.1,154.6 1057.9,152.8 1058.8,151.2 1059.6,149.7 1060.4,148.2 1061.2,146.9 1062.0,145.6 1062.8,144.3 1063.7,143.2 1064.5,142.1 1065.3,141.1 1066.1,140.1 1066.9,139.2 1067.7,138.4 1068.5,137.6 1069.4,136.9 1070.2,136.3 1071.0,135.7 1071.8,135.1 1072.6,134.6 1073.4,134.2 1074.2,133.8 1075.1,133.4 1075.9,133.1 1076.7,132.9 1077.5,132.7 1078.3,132.5 1079.1,132.4 1080.0,132.4 1080.8,132.3 1081.6,132.3 1082.4,132.4 1083.2,132.5 1084.0,132.7 1084.8,132.9 1085.7,133.1 1086.5,133.4 1087.3,133.7 1088.1,134.0 1088.9,134.4 1089.7,134.8 1090.6,135.3 1091.4,135.8 1092.2,136.4 1093.0,137.0 1093.8,137.6 1094.6,138.2 1095.4,138.9 1096.3,139.7 1097.1,140.5 1097.9,141.3 1098.7,142.1 1099.5,143.0 1100.3,144.0 1101.2,144.9 1102.0,145.9 1102.8,147.0 1103.6,148.1 1104.4,149.2 1105.2,150.4 1106.0,151.6 1106.9,152.8 1107.7,154.1 1108.5,155.4 1109.3,156.8 1110.1,158.2 1110.9,159.7 1111.8,161.1 1112.6,162.7 1113.4,164.2 1114.2,165.9 1115.0,167.5 1115.8,169.2 1116.6,171.0 1117.5,172.8 1118.3,174.6 1119.1,176.5 1119.9,178.4 1120.7,180.4 1121.5,182.4 1122.3,184.5 1123.2,186.6 1124.0,188.8 1124.8,191.0 1125.6,193.3 1126.4,195.6 1127.2,198.0 1128.1,200.4 1128.9,202.9 1129.7,205.5 1130.5,208.1 1131.3,210.7 1132.1,213.5 1132.9,216.3 1133.8,219.1 1134.6,222.1 1135.4,225.1 1136.2,228.1 1137.0,231.3 1137.8,234.5 1138.7,237.8 1139.5,241.2 1140.3,244.6 1141.1,248.2 1141.9,251.8 1142.7,255.6 1143.5,259.4 1144.4,263.3 1145.2,267.3 1146.0,271.5 1146.8,275.7 1147.6,280.1 1148.4,284.6 1149.3,289.2 1150.1,294.0 1150.9,298.9 1151.7,303.9 1152.5,309.1 1153.3,314.5 1154.1,320.1 1155.0,325.8 1155.8,331.8 1156.6,338.0 1157.4,344.4 1158.2,351.1 1159.0,358.0 1159.9,365.3 1160.7,372.8 1161.5,380.7 1162.3,389.1 1163.1,397.8 1163.9,407.0 1164.7,416.8 1165.6,427.1 1166.4,438.1 1167.2,449.9 1168.0,462.5 1168.8,476.0 1169.6,490.6 1170.5,506.2 1171.3,521.8 1172.1,537.4 1172.9,552.9 1173.4,562.3 1173.7,560.4 1174.5,555.7 1175.3,551.0 1176.2,546.4 1177.0,562.3 1177.8,552.9 1178.6,543.0 1179.4,534.1 1180.2,526.2 1181.1,519.6 1181.9,513.9 1182.7,509.3 1183.5,505.5 1184.3,502.5 1185.1,500.3 1185.9,498.8 1186.8,498.0 1187.6,497.8 1188.4,498.3 1189.2,499.3 1190.0,501.1 1190.8,503.5 1191.6,506.6 1192.5,510.5 1193.3,515.3 1194.1,521.2 1194.9,528.3 1195.7,536.9 1196.5,547.3 1197.4,560.1 1198.2,576.1 1199.0,596.7 1199.8,624.4 1200.6,639.2 1201.4,647.7 1202.2,656.2 1203.1,664.7 1203.2,666.4 1203.9,640.0 1204.7,607.2 1205.5,574.3 1206.3,541.4 1207.1,519.4 1208.0,502.7 1208.8,488.0 1209.6,474.8 1210.4,462.8 1211.2,451.9 1212.0,441.8 1212.8,432.4 1213.7,423.6 1214.5,415.4 1215.3,407.7 1216.1,400.4 1216.9,393.6 1217.7,387.0 1218.6,380.8 1219.4,374.9 1220.2,369.2 1221.0,363.8 1221.8,358.6 1222.6,353.7 1223.4,348.9 1224.3,344.3 1225.1,339.9 1225.9,335.7 1226.7,331.6 1227.5,327.7 1228.3,323.9 1229.2,320.2 1230.0,316.7 1230.8,313.2 1231.6,309.9 1232.4,306.7 1233.2,303.6 1234.0,300.6 1234.9,297.7 1235.7,294.9 1236.5,292.2 1237.3,289.6 1238.1,287.0 1238.9,284.6 1239.8,282.2 1240.6,279.9 1241.4,277.6 1242.2,275.4 1243.0,273.3 1243.8,271.3 1244.6,269.3 1245.5,267.4 1246.3,265.5 1247.1,263.7 1247.9,262.0 1248.7,260.3 1249.5,258.6 1250.3,257.0 1251.2,255.5 1252.0,254.0 1252.8,252.6 1253.6,251.2 1254.4,249.9 1255.2,248.6 1256.1,247.3 1256.9,246.1 1257.7,245.0 1258.5,243.9 1259.3,242.8 1260.1,241.7 1260.9,240.8 1261.8,239.8 1262.6,238.9 1263.4,238.0 1264.2,237.2 1265.0,236.4 1265.8,235.6 1266.7,234.9 1267.5,234.2 1268.3,233.5 1269.1,232.9 1269.9,232.3 1270.7,231.7 1271.5,231.2 1272.4,230.7 1273.2,230.2 1274.0,229.8 1274.8,229.4 1275.6,229.1 1276.4,228.7 1277.3,228.4 1278.1,228.1 1278.9,227.9 1279.7,227.7 1280.5,227.5 1281.3,227.4 1282.1,227.2 1283.0,227.1 1283.8,227.1 1284.6,227.0 1285.4,227.0 1286.2,227.1 1287.0,227.1 1287.9,227.2 1288.7,227.3 1289.5,227.4 1290.3,227.6 1291.1,227.8 1291.9,228.0 1292.7,228.3 1293.6,228.6 1294.4,228.9 1295.2,229.2 1296.0,229.6 1296.8,230.0 1297.6,230.4 1298.5,230.9 1299.3,231.4 1300.1,231.9 1300.9,232.4 1301.7,233.0 1302.5,233.6 1303.3,234.3 1304.2,235.0 1305.0,235.7 1305.8,236.5 1306.6,237.3 1307.4,238.1 1308.2,239.0 1309.0,239.9 1309.9,240.8 1310.7,241.8 1311.5,242.8 1312.3,243.9 1313.1,245.0 1313.9,246.2 1314.8,247.3 1315.6,248.6 1316.4,249.9 1317.2,251.2 1318.0,252.6 1318.8,254.0 1319.6,255.5 1320.5,257.1 1321.3,258.7 1322.1,260.3 1322.9,262.0 1323.7,263.8 1324.5,265.7 1325.4,267.6 1326.2,269.5 1327.0,271.6 1327.8,273.7 1328.6,275.9 1329.4,278.2 1330.2,280.5 1331.1,283.0 1331.9,285.5 1332.7,288.2 1333.5,290.9 1334.3,293.8 1335.1,296.7 1336.0,299.8 1336.8,303.0 1337.6,306.4 1338.4,309.9 1339.2,313.5 1340.0,317.3 1340.8,321.3 1341.7,325.5 1342.5,329.8 1343.3,334.4 1344.1,339.3 1344.9,344.4 1345.7,349.7 1346.6,355.4 1347.4,361.5 1348.2,367.9 1349.0,374.7 1349.8,382.0 1350.6,389.9 1351.4,398.2 1352.3,407.3 1353.1,417.0 1353.9,427.4 1354.7,438.6 1355.5,450.5 1356.3,460.7 1357.2,470.5 1358.0,480.3 1358.8,490.1 1358.9,492.1 1359.6,487.4 1360.4,481.5 1361.2,475.6 1362.0,469.7 1362.9,458.9 1363.7,446.9 1364.5,435.4 1365.3,424.6 1366.1,414.5 1366.9,405.1 1367.7,396.4 1368.6,388.4 1369.4,380.8 1370.2,373.8 1371.0,367.2 1371.8,361.0 1372.6,355.2 1373.5,349.7 1374.3,344.5 1375.1,339.5 1375.9,334.9 1376.7,330.4 1377.5,326.2 1378.3,322.1 1379.2,318.3 1380.0,314.6 1380.8,311.1 1381.6,307.7 1382.4,304.4 1383.2,301.3 1384.1,298.3 1384.9,295.4 1385.7,292.6 1386.5,290.0 1387.3,287.4 1388.1,284.9 1388.9,282.5 1389.8,280.2 1390.6,277.9 1391.4,275.8 1392.2,273.7 1393.0,271.6 1393.8,269.7 1394.7,267.8 1395.5,266.0 1396.3,264.2 1397.1,262.5 1397.9,260.8 1398.7,259.2 1399.5,257.6 1400.4,256.1 1401.2,254.7 1402.0,253.2 1402.8,251.9 1403.6,250.5 1404.4,249.2 1405.3,248.0 1406.1,246.7 1406.9,245.6 1407.7,244.4 1408.5,243.3 1409.3,242.2 1410.1,241.2 1411.0,240.2 1411.8,239.2 1412.6,238.3 1413.4,237.4 1414.2,236.5 1415.0,235.6 1415.9,234.8 1416.7,234.0 1417.5,233.2 1418.3,232.4 1419.1,231.7 1419.9,231.0 1420.7,230.3 1421.6,229.7 1422.4,229.1 1423.2,228.4 1424.0,227.9 1424.8,227.3 1425.6,226.7 1426.4,226.2 1427.3,225.7 1428.1,225.2 1428.9,224.8 1429.7,224.3 1430.5,223.9 1431.3,223.5 1432.2,223.1 1433.0,222.7 1433.8,222.4 1434.6,222.0 1435.4,221.7 1436.2,221.4 1437.0,221.1 1437.9,220.8 1438.7,220.6 1439.5,220.3 1440.3,220.1 1441.1,219.9 1441.9,219.7 1442.8,219.5 1443.6,219.3 1444.4,219.1 1445.2,219.0 1446.0,218.9 1446.8,218.7 1447.6,218.6 1448.5,218.5 1449.3,218.5 1450.1,218.4 1450.9,218.3 1451.7,218.3 1452.5,218.2 1453.4,218.2 1454.2,218.2 1455.0,218.2 1455.8,218.2 1456.6,218.2 1457.4,218.3 1458.2,218.3 1459.1,218.4 1459.9,218.4 1460.7,218.5 1461.5,218.6 1462.3,218.7 1463.1,218.8 1464.0,219.0 1464.8,219.1 1465.6,219.3 1466.4,219.4 1467.2,219.6 1468.0,219.8 1468.8,220.0 1469.7,220.2 1470.5,220.4 1471.3,220.6 1472.1,220.9 1472.9,221.1 1473.7,221.4 1474.6,221.7 1475.4,221.9 1476.2,222.2 1477.0,222.5 1477.8,222.9 1478.6,223.2 1479.4,223.5 1480.3,223.9 1481.1,224.2 1481.9,224.6 1482.7,224.9 1483.5,225.3 1484.3,225.7 1485.1,226.1 1486.0,226.6 1486.8,227.0 1487.6,227.4 1488.4,227.9 1489.2,228.3 1490.0,228.8 1490.9,229.2 1491.7,229.7 1492.5,230.2 1493.3,230.7 1494.1,231.2 1494.9,231.8 1495.7,232.3 1496.6,232.8 1497.4,233.4 1498.2,234.0 1499.0,234.5 1499.8,235.1 1500.6,235.7 1501.5,236.3 1502.3,236.9 1503.1,237.5 1503.9,238.1 1504.7,238.8 1505.5,239.4 1506.3,240.1 1507.2,240.8 1508.0,241.4 1508.8,242.1 1509.6,242.8 1510.4,243.5 1511.2,244.2 1512.1,245.0 1512.9,245.7 1513.7,246.4 1514.5,247.2 1515.3,248.0 1516.1,248.7 1516.9,249.5 1517.8,250.3 1518.6,251.1 1519.4,251.9 1520.2,252.7 1521.0,253.6 1521.8,254.4 1522.7,255.3 1523.5,256.1 1524.3,257.0 1525.1,257.9 1525.9,258.8 1526.7,259.7 1527.5,260.6 1528.4,261.5 1529.2,262.5 1530.0,263.4 1530.8,264.4 1531.6,265.3 1532.4,266.3 1533.3,267.3 1534.1,268.3 1534.9,269.3 1535.7,270.3 1536.5,271.3 1537.3,272.4 1538.1,273.4 1539.0,274.5 1539.8,275.6 1540.6,276.7 1541.4,277.8 1542.2,278.9 1543.0,280.0 1543.8,281.1 1544.7,282.3 1545.5,283.4 1546.3,284.6 1547.1,285.8 1547.9,287.0 1548.7,288.2 1549.6,289.4 1550.4,290.6 1551.2,291.9 1552.0,293.1 1552.8,294.4 1553.6,295.7 1554.4,297.0 1555.3,298.3 1556.1,299.6 1556.9,301.0 1557.7,302.3 1558.5,303.7 1559.3,305.1 1560.2,306.5 1561.0,307.9 1561.8,309.3 1562.6,310.8 1563.4,312.2 1564.2,313.7 1565.0,315.2 1565.9,316.7 1566.7,318.3 1567.5,319.8 1568.3,321.4 1569.1,322.9 1569.9,324.5 1570.8,326.1 1571.6,327.8 1572.4,329.4 1573.2,331.1 1574.0,332.8 1574.8,334.5 1575.6,336.2 1576.5,338.0 1577.3,339.8 1578.1,341.6 1578.9,343.4 1579.7,345.2 1580.5,347.1 1581.4,349.0 1582.2,350.9 1583.0,352.8 1583.8,354.8 1584.6,356.7 1585.4,358.7 1586.2,360.8 1587.1,362.8 1587.9,364.9 1588.7,367.1 1589.5,369.2 1590.3,371.4 1591.1,373.6 1592.0,375.9 1592.8,378.1 1593.6,380.4 1594.4,382.8 1595.2,385.2 1596.0,387.6 1596.8,390.1 1597.7,392.6 1598.5,395.1 1599.3,397.7 1600.1,400.3 1600.9,403.0 1601.7,405.7 1602.5,408.5 1603.4,411.3 1604.2,414.2 1605.0,417.1 1605.8,420.1 1606.6,423.2 1607.4,426.3 1608.3,429.4 1609.1,432.7 1609.9,436.0 1610.7,439.4 1611.5,442.9 1612.3,446.4 1613.1,450.1 1614.0,453.8 1614.8,457.6 1615.6,461.6 1616.4,465.6 1617.2,469.8 1618.0,474.0 1618.9,478.5 1619.7,483.0 1620.5,487.7 1621.3,492.6 1622.1,497.6 1622.9,502.9 1623.7,508.3 1624.6,514.0 1625.4,519.9 1626.2,526.1 1627.0,532.6 1627.8,539.4 1628.6,546.6 1629.5,554.3 1630.3,562.4 1631.1,571.1 1631.9,580.4 1632.7,590.5 1633.5,601.6 1634.3,613.7 1635.2,627.3 1636.0,642.6 1636.8,660.3 1637.6,681.3 1638.4,707.3 1639.2,730.4 1640.1,715.5 1640.9,720.1 1641.7,724.8 1642.5,729.5 1642.7,730.4 1643.3,718.8 1644.1,704.3 1644.9,689.7 1645.8,675.2 1646.6,659.4 1647.4,645.9 1648.2,634.2 1649.0,624.0 1649.8,614.9 1650.7,606.8 1651.5,599.6 1652.3,593.0 1653.1,586.9 1653.9,581.4 1654.7,576.4 1655.5,571.7 1656.4,567.4 1657.2,563.4 1658.0,559.7 1658.8,556.2 1659.6,553.0 1660.4,550.1 1661.2,547.3 1662.1,544.7 1662.9,542.3 1663.7,540.1 1664.5,538.0 1665.3,536.1 1666.1,534.3 1667.0,532.7 1667.8,531.2 1668.6,529.8 1669.4,528.5 1670.2,527.4 1671.0,526.3 1671.8,525.4 1672.7,524.6 1673.5,523.8 1674.3,523.2 1675.1,522.6 1675.9,522.2 1676.7,521.8 1677.6,521.6 1678.4,521.4 1679.2,521.3 1680.0,521.3"/>
</g>
<g stroke="#698c8c" fill="none" stroke-linecap="round">
<line x1="703.25" y1="45" x2="703.25" y2="862" stroke-width="6.5"/>
<line x1="1192.25" y1="45" x2="1192.25" y2="845" stroke-width="6.5"/>
<line x1="948.7" y1="43.5" x2="948.7" y2="845" stroke-width="6.5" stroke-dasharray="46 34" stroke-dashoffset="0"/>
<circle cx="703.25" cy="44.5" r="14.4" stroke-width="7.2"/>
<circle cx="948.7" cy="45.3" r="14.4" stroke-width="7.2"/>
<circle cx="1192.25" cy="45.5" r="14.4" stroke-width="7.2"/>
</g>
<g stroke="#698c8c" fill="none" stroke-linecap="round" stroke-width="7.2">
<line x1="281.7" y1="909.5" x2="328.2" y2="909.5"/><line x1="362.1" y1="909.5" x2="410.7" y2="909.5"/><circle cx="410.75" cy="909.5" r="9.1" stroke-width="6"/>
<line x1="873.8" y1="903.9" x2="980" y2="903.9"/><circle cx="992.65" cy="902.9" r="9.4" fill="#fff" stroke-width="5.7"/>
</g>
<g stroke-width="13.9" fill="none">
<line x1="278.9" y1="986.9" x2="382.9" y2="986.9" stroke="#00a6fb"/>
<line x1="623.3" y1="986.9" x2="728.0" y2="986.9" stroke="#e0af30"/>
<line x1="978.0" y1="986.9" x2="1082.0" y2="986.9" stroke="#40729e"/>
<line x1="278.9" y1="1073.8" x2="382.9" y2="1073.8" stroke="#8c7ce4"/>
<line x1="623.3" y1="1073.8" x2="728.0" y2="1073.8" stroke="#46bc34"/>
</g>
<g font-size="72px">
<text x="418.5" y="931.6" textLength="432" lengthAdjust="spacing" style="fill:#000">Desired Signal</text>
<text x="1036.5" y="926.1" textLength="356" lengthAdjust="spacing" style="fill:#000">Interference</text>
</g><g font-size="68.5px">
<text x="400.8" y="1011" textLength="123.5" lengthAdjust="spacing" style="fill:#000">SMI</text>
<text x="746.3" y="1011" textLength="142.3" lengthAdjust="spacing" style="fill:#000">VLD</text>
<text x="1101.5" y="1010.8" style="fill:#000">TNB</text>
<text x="401.2" y="1098" style="fill:#000">LESB</text>
<text x="744.5" y="1098" textLength="178" lengthAdjust="spacing" style="fill:#000">RICM</text>
</g>
<g font-size="71.2px" text-anchor="middle" letter-spacing="-1.6">
<text x="210.4" y="1218.6">-90</text>
<text x="455.0" y="1218.6">-60</text>
<text x="699.6" y="1218.6">-30</text>
<text x="944.2" y="1218.6">0</text>
<text x="1188.7" y="1218.6">30</text>
<text x="1433.3" y="1218.6">60</text>
<text x="1677.9" y="1218.6">90</text>
</g>
<g font-size="71.2px" text-anchor="end" letter-spacing="-1.6">
<text x="195.2" y="64.7">0</text>
<text x="195.2" y="298.6">-10</text>
<text x="195.2" y="532.5">-20</text>
<text x="195.2" y="766.4">-30</text>
<text x="195.2" y="1000.3">-40</text>
</g>
<text x="810.8" y="1313" font-size="77px" textLength="270" lengthAdjust="spacingAndGlyphs">Angle(°)</text>
<text transform="translate(80.6,820.6) rotate(-90)" font-size="77px" textLength="462" lengthAdjust="spacingAndGlyphs">Amplitude(dB)</text>
<text x="826.5" y="1430" font-size="89px" textLength="93" lengthAdjust="spacingAndGlyphs" style="fill:#0a0a0a">(<tspan font-weight="bold">c</tspan>)</text>
</svg></body></html>
